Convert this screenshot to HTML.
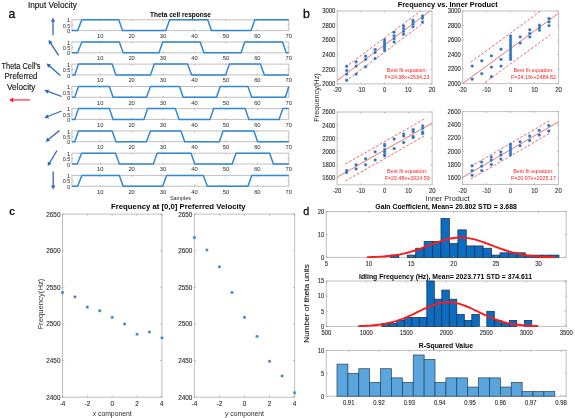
<!DOCTYPE html>
<html><head><meta charset="utf-8"><style>
html,body{margin:0;padding:0;background:#fff;}
body{width:575px;height:418px;overflow:hidden;}
svg{display:block;filter:blur(0.3px);font-family:"Liberation Sans",sans-serif;}
</style></head><body>
<svg width="575" height="418" viewBox="0 0 575 418">
<rect width="575" height="418" fill="#fff"/>
<text x="8.40" y="17.60" font-size="12.20" text-anchor="start" fill="#111" stroke="#111" stroke-width="0.3">a</text>
<text x="27.90" y="7.80" font-size="8.30" text-anchor="start" fill="#111" textLength="49.00" lengthAdjust="spacingAndGlyphs" stroke="#111" stroke-width="0.12">Input Velocity</text>
<text x="21.00" y="68.60" font-size="8.30" text-anchor="middle" fill="#111" textLength="38.80" lengthAdjust="spacingAndGlyphs" stroke="#111" stroke-width="0.12">Theta Cell’s</text>
<text x="21.00" y="79.10" font-size="8.30" text-anchor="middle" fill="#111" textLength="33.00" lengthAdjust="spacingAndGlyphs" stroke="#111" stroke-width="0.12">Preferred</text>
<text x="21.20" y="89.50" font-size="8.30" text-anchor="middle" fill="#111" textLength="28.40" lengthAdjust="spacingAndGlyphs" stroke="#111" stroke-width="0.12">Velocity</text>
<line x1="29.80" y1="99.90" x2="12.80" y2="99.90" stroke="#f7212b" stroke-width="1.15"/>
<polygon points="9.00,99.90 13.30,97.60 13.30,102.20" fill="#f7212b"/>
<line x1="53.00" y1="35.30" x2="53.00" y2="21.20" stroke="#2b68b9" stroke-width="1.3"/>
<polygon points="53.00,17.70 55.20,21.70 50.80,21.70" fill="#2b68b9"/>
<line x1="58.60" y1="55.30" x2="50.51" y2="42.84" stroke="#2b68b9" stroke-width="1.3"/>
<polygon points="48.60,39.90 52.62,42.06 48.93,44.45" fill="#2b68b9"/>
<line x1="60.30" y1="75.40" x2="49.23" y2="65.71" stroke="#2b68b9" stroke-width="1.3"/>
<polygon points="46.60,63.40 51.06,64.38 48.16,67.69" fill="#2b68b9"/>
<line x1="61.60" y1="96.50" x2="47.69" y2="91.40" stroke="#2b68b9" stroke-width="1.3"/>
<polygon points="44.40,90.20 48.91,89.51 47.40,93.64" fill="#2b68b9"/>
<line x1="61.60" y1="111.00" x2="47.65" y2="116.51" stroke="#2b68b9" stroke-width="1.3"/>
<polygon points="44.40,117.80 47.31,114.28 48.93,118.38" fill="#2b68b9"/>
<line x1="59.50" y1="130.40" x2="48.31" y2="139.58" stroke="#2b68b9" stroke-width="1.3"/>
<polygon points="45.60,141.80 47.30,137.56 50.09,140.96" fill="#2b68b9"/>
<line x1="57.00" y1="150.50" x2="49.50" y2="163.00" stroke="#2b68b9" stroke-width="1.3"/>
<polygon points="47.70,166.00 47.87,161.44 51.64,163.70" fill="#2b68b9"/>
<line x1="53.20" y1="171.60" x2="53.20" y2="186.00" stroke="#2b68b9" stroke-width="1.3"/>
<polygon points="53.20,189.50 51.00,185.50 55.40,185.50" fill="#2b68b9"/>
<text x="180.50" y="17.10" font-size="7.00" text-anchor="middle" fill="#000" font-weight="bold" textLength="61.00" lengthAdjust="spacingAndGlyphs">Theta cell response</text>
<rect x="71.90" y="19.80" width="216.90" height="10.80" fill="none" stroke="#c0c0c0" stroke-width="1.0"/>
<line x1="100.19" y1="19.80" x2="100.19" y2="21.30" stroke="#9a9a9a" stroke-width="0.6"/>
<line x1="100.19" y1="30.60" x2="100.19" y2="29.10" stroke="#9a9a9a" stroke-width="0.6"/>
<line x1="131.63" y1="19.80" x2="131.63" y2="21.30" stroke="#9a9a9a" stroke-width="0.6"/>
<line x1="131.63" y1="30.60" x2="131.63" y2="29.10" stroke="#9a9a9a" stroke-width="0.6"/>
<line x1="163.06" y1="19.80" x2="163.06" y2="21.30" stroke="#9a9a9a" stroke-width="0.6"/>
<line x1="163.06" y1="30.60" x2="163.06" y2="29.10" stroke="#9a9a9a" stroke-width="0.6"/>
<line x1="194.50" y1="19.80" x2="194.50" y2="21.30" stroke="#9a9a9a" stroke-width="0.6"/>
<line x1="194.50" y1="30.60" x2="194.50" y2="29.10" stroke="#9a9a9a" stroke-width="0.6"/>
<line x1="225.93" y1="19.80" x2="225.93" y2="21.30" stroke="#9a9a9a" stroke-width="0.6"/>
<line x1="225.93" y1="30.60" x2="225.93" y2="29.10" stroke="#9a9a9a" stroke-width="0.6"/>
<line x1="257.37" y1="19.80" x2="257.37" y2="21.30" stroke="#9a9a9a" stroke-width="0.6"/>
<line x1="257.37" y1="30.60" x2="257.37" y2="29.10" stroke="#9a9a9a" stroke-width="0.6"/>
<line x1="71.90" y1="25.20" x2="73.40" y2="25.20" stroke="#9a9a9a" stroke-width="0.6"/>
<line x1="288.80" y1="25.20" x2="287.30" y2="25.20" stroke="#9a9a9a" stroke-width="0.6"/>
<text x="70.40" y="22.40" font-size="5.90" text-anchor="end" fill="#2a2a2a">1</text>
<text x="70.40" y="27.80" font-size="5.90" text-anchor="end" fill="#2a2a2a" textLength="7.64" lengthAdjust="spacingAndGlyphs">0.5</text>
<text x="70.40" y="33.20" font-size="5.90" text-anchor="end" fill="#2a2a2a">0</text>
<text x="100.19" y="38.00" font-size="6.20" text-anchor="middle" fill="#2a2a2a" textLength="6.45" lengthAdjust="spacingAndGlyphs">10</text>
<text x="131.63" y="38.00" font-size="6.20" text-anchor="middle" fill="#2a2a2a" textLength="6.45" lengthAdjust="spacingAndGlyphs">20</text>
<text x="163.06" y="38.00" font-size="6.20" text-anchor="middle" fill="#2a2a2a" textLength="6.45" lengthAdjust="spacingAndGlyphs">30</text>
<text x="194.50" y="38.00" font-size="6.20" text-anchor="middle" fill="#2a2a2a" textLength="6.45" lengthAdjust="spacingAndGlyphs">40</text>
<text x="225.93" y="38.00" font-size="6.20" text-anchor="middle" fill="#2a2a2a" textLength="6.45" lengthAdjust="spacingAndGlyphs">50</text>
<text x="257.37" y="38.00" font-size="6.20" text-anchor="middle" fill="#2a2a2a" textLength="6.45" lengthAdjust="spacingAndGlyphs">60</text>
<text x="288.80" y="38.00" font-size="6.20" text-anchor="middle" fill="#2a2a2a" textLength="6.45" lengthAdjust="spacingAndGlyphs">70</text>
<polyline points="71.90,30.60 77.65,30.60 81.86,19.80 118.74,19.80 122.51,30.60 165.89,30.60 169.66,19.80 207.70,19.80 211.47,30.60 251.08,30.60 254.85,19.80 288.80,19.80" fill="none" stroke="#3288d2" stroke-width="1.5" stroke-linejoin="round"/>
<rect x="71.90" y="42.00" width="216.90" height="10.80" fill="none" stroke="#c0c0c0" stroke-width="1.0"/>
<line x1="100.19" y1="42.00" x2="100.19" y2="43.50" stroke="#9a9a9a" stroke-width="0.6"/>
<line x1="100.19" y1="52.80" x2="100.19" y2="51.30" stroke="#9a9a9a" stroke-width="0.6"/>
<line x1="131.63" y1="42.00" x2="131.63" y2="43.50" stroke="#9a9a9a" stroke-width="0.6"/>
<line x1="131.63" y1="52.80" x2="131.63" y2="51.30" stroke="#9a9a9a" stroke-width="0.6"/>
<line x1="163.06" y1="42.00" x2="163.06" y2="43.50" stroke="#9a9a9a" stroke-width="0.6"/>
<line x1="163.06" y1="52.80" x2="163.06" y2="51.30" stroke="#9a9a9a" stroke-width="0.6"/>
<line x1="194.50" y1="42.00" x2="194.50" y2="43.50" stroke="#9a9a9a" stroke-width="0.6"/>
<line x1="194.50" y1="52.80" x2="194.50" y2="51.30" stroke="#9a9a9a" stroke-width="0.6"/>
<line x1="225.93" y1="42.00" x2="225.93" y2="43.50" stroke="#9a9a9a" stroke-width="0.6"/>
<line x1="225.93" y1="52.80" x2="225.93" y2="51.30" stroke="#9a9a9a" stroke-width="0.6"/>
<line x1="257.37" y1="42.00" x2="257.37" y2="43.50" stroke="#9a9a9a" stroke-width="0.6"/>
<line x1="257.37" y1="52.80" x2="257.37" y2="51.30" stroke="#9a9a9a" stroke-width="0.6"/>
<line x1="71.90" y1="47.40" x2="73.40" y2="47.40" stroke="#9a9a9a" stroke-width="0.6"/>
<line x1="288.80" y1="47.40" x2="287.30" y2="47.40" stroke="#9a9a9a" stroke-width="0.6"/>
<text x="70.40" y="44.60" font-size="5.90" text-anchor="end" fill="#2a2a2a">1</text>
<text x="70.40" y="50.00" font-size="5.90" text-anchor="end" fill="#2a2a2a" textLength="7.64" lengthAdjust="spacingAndGlyphs">0.5</text>
<text x="70.40" y="55.40" font-size="5.90" text-anchor="end" fill="#2a2a2a">0</text>
<text x="100.19" y="60.20" font-size="6.20" text-anchor="middle" fill="#2a2a2a" textLength="6.45" lengthAdjust="spacingAndGlyphs">10</text>
<text x="131.63" y="60.20" font-size="6.20" text-anchor="middle" fill="#2a2a2a" textLength="6.45" lengthAdjust="spacingAndGlyphs">20</text>
<text x="163.06" y="60.20" font-size="6.20" text-anchor="middle" fill="#2a2a2a" textLength="6.45" lengthAdjust="spacingAndGlyphs">30</text>
<text x="194.50" y="60.20" font-size="6.20" text-anchor="middle" fill="#2a2a2a" textLength="6.45" lengthAdjust="spacingAndGlyphs">40</text>
<text x="225.93" y="60.20" font-size="6.20" text-anchor="middle" fill="#2a2a2a" textLength="6.45" lengthAdjust="spacingAndGlyphs">50</text>
<text x="257.37" y="60.20" font-size="6.20" text-anchor="middle" fill="#2a2a2a" textLength="6.45" lengthAdjust="spacingAndGlyphs">60</text>
<text x="288.80" y="60.20" font-size="6.20" text-anchor="middle" fill="#2a2a2a" textLength="6.45" lengthAdjust="spacingAndGlyphs">70</text>
<polyline points="71.90,52.80 77.65,52.80 81.86,42.00 119.37,42.00 123.14,52.80 158.97,52.80 162.75,42.00 200.15,42.00 203.93,52.80 241.02,52.80 244.79,42.00 282.51,42.00 286.29,52.80 288.80,52.80" fill="none" stroke="#3288d2" stroke-width="1.5" stroke-linejoin="round"/>
<rect x="71.90" y="64.10" width="216.90" height="10.80" fill="none" stroke="#c0c0c0" stroke-width="1.0"/>
<line x1="100.19" y1="64.10" x2="100.19" y2="65.60" stroke="#9a9a9a" stroke-width="0.6"/>
<line x1="100.19" y1="74.90" x2="100.19" y2="73.40" stroke="#9a9a9a" stroke-width="0.6"/>
<line x1="131.63" y1="64.10" x2="131.63" y2="65.60" stroke="#9a9a9a" stroke-width="0.6"/>
<line x1="131.63" y1="74.90" x2="131.63" y2="73.40" stroke="#9a9a9a" stroke-width="0.6"/>
<line x1="163.06" y1="64.10" x2="163.06" y2="65.60" stroke="#9a9a9a" stroke-width="0.6"/>
<line x1="163.06" y1="74.90" x2="163.06" y2="73.40" stroke="#9a9a9a" stroke-width="0.6"/>
<line x1="194.50" y1="64.10" x2="194.50" y2="65.60" stroke="#9a9a9a" stroke-width="0.6"/>
<line x1="194.50" y1="74.90" x2="194.50" y2="73.40" stroke="#9a9a9a" stroke-width="0.6"/>
<line x1="225.93" y1="64.10" x2="225.93" y2="65.60" stroke="#9a9a9a" stroke-width="0.6"/>
<line x1="225.93" y1="74.90" x2="225.93" y2="73.40" stroke="#9a9a9a" stroke-width="0.6"/>
<line x1="257.37" y1="64.10" x2="257.37" y2="65.60" stroke="#9a9a9a" stroke-width="0.6"/>
<line x1="257.37" y1="74.90" x2="257.37" y2="73.40" stroke="#9a9a9a" stroke-width="0.6"/>
<line x1="71.90" y1="69.50" x2="73.40" y2="69.50" stroke="#9a9a9a" stroke-width="0.6"/>
<line x1="288.80" y1="69.50" x2="287.30" y2="69.50" stroke="#9a9a9a" stroke-width="0.6"/>
<text x="70.40" y="66.70" font-size="5.90" text-anchor="end" fill="#2a2a2a">1</text>
<text x="70.40" y="72.10" font-size="5.90" text-anchor="end" fill="#2a2a2a" textLength="7.64" lengthAdjust="spacingAndGlyphs">0.5</text>
<text x="70.40" y="77.50" font-size="5.90" text-anchor="end" fill="#2a2a2a">0</text>
<text x="100.19" y="82.30" font-size="6.20" text-anchor="middle" fill="#2a2a2a" textLength="6.45" lengthAdjust="spacingAndGlyphs">10</text>
<text x="131.63" y="82.30" font-size="6.20" text-anchor="middle" fill="#2a2a2a" textLength="6.45" lengthAdjust="spacingAndGlyphs">20</text>
<text x="163.06" y="82.30" font-size="6.20" text-anchor="middle" fill="#2a2a2a" textLength="6.45" lengthAdjust="spacingAndGlyphs">30</text>
<text x="194.50" y="82.30" font-size="6.20" text-anchor="middle" fill="#2a2a2a" textLength="6.45" lengthAdjust="spacingAndGlyphs">40</text>
<text x="225.93" y="82.30" font-size="6.20" text-anchor="middle" fill="#2a2a2a" textLength="6.45" lengthAdjust="spacingAndGlyphs">50</text>
<text x="257.37" y="82.30" font-size="6.20" text-anchor="middle" fill="#2a2a2a" textLength="6.45" lengthAdjust="spacingAndGlyphs">60</text>
<text x="288.80" y="82.30" font-size="6.20" text-anchor="middle" fill="#2a2a2a" textLength="6.45" lengthAdjust="spacingAndGlyphs">70</text>
<polyline points="71.90,74.90 74.73,74.90 78.50,64.10 112.14,64.10 115.91,74.90 150.49,74.90 154.26,64.10 187.58,64.10 191.67,74.90 225.62,74.90 229.39,64.10 260.51,64.10 264.28,74.90 288.80,74.90" fill="none" stroke="#3288d2" stroke-width="1.5" stroke-linejoin="round"/>
<rect x="71.90" y="86.50" width="216.90" height="10.80" fill="none" stroke="#c0c0c0" stroke-width="1.0"/>
<line x1="100.19" y1="86.50" x2="100.19" y2="88.00" stroke="#9a9a9a" stroke-width="0.6"/>
<line x1="100.19" y1="97.30" x2="100.19" y2="95.80" stroke="#9a9a9a" stroke-width="0.6"/>
<line x1="131.63" y1="86.50" x2="131.63" y2="88.00" stroke="#9a9a9a" stroke-width="0.6"/>
<line x1="131.63" y1="97.30" x2="131.63" y2="95.80" stroke="#9a9a9a" stroke-width="0.6"/>
<line x1="163.06" y1="86.50" x2="163.06" y2="88.00" stroke="#9a9a9a" stroke-width="0.6"/>
<line x1="163.06" y1="97.30" x2="163.06" y2="95.80" stroke="#9a9a9a" stroke-width="0.6"/>
<line x1="194.50" y1="86.50" x2="194.50" y2="88.00" stroke="#9a9a9a" stroke-width="0.6"/>
<line x1="194.50" y1="97.30" x2="194.50" y2="95.80" stroke="#9a9a9a" stroke-width="0.6"/>
<line x1="225.93" y1="86.50" x2="225.93" y2="88.00" stroke="#9a9a9a" stroke-width="0.6"/>
<line x1="225.93" y1="97.30" x2="225.93" y2="95.80" stroke="#9a9a9a" stroke-width="0.6"/>
<line x1="257.37" y1="86.50" x2="257.37" y2="88.00" stroke="#9a9a9a" stroke-width="0.6"/>
<line x1="257.37" y1="97.30" x2="257.37" y2="95.80" stroke="#9a9a9a" stroke-width="0.6"/>
<line x1="71.90" y1="91.90" x2="73.40" y2="91.90" stroke="#9a9a9a" stroke-width="0.6"/>
<line x1="288.80" y1="91.90" x2="287.30" y2="91.90" stroke="#9a9a9a" stroke-width="0.6"/>
<text x="70.40" y="89.10" font-size="5.90" text-anchor="end" fill="#2a2a2a">1</text>
<text x="70.40" y="94.50" font-size="5.90" text-anchor="end" fill="#2a2a2a" textLength="7.64" lengthAdjust="spacingAndGlyphs">0.5</text>
<text x="70.40" y="99.90" font-size="5.90" text-anchor="end" fill="#2a2a2a">0</text>
<text x="100.19" y="104.70" font-size="6.20" text-anchor="middle" fill="#2a2a2a" textLength="6.45" lengthAdjust="spacingAndGlyphs">10</text>
<text x="131.63" y="104.70" font-size="6.20" text-anchor="middle" fill="#2a2a2a" textLength="6.45" lengthAdjust="spacingAndGlyphs">20</text>
<text x="163.06" y="104.70" font-size="6.20" text-anchor="middle" fill="#2a2a2a" textLength="6.45" lengthAdjust="spacingAndGlyphs">30</text>
<text x="194.50" y="104.70" font-size="6.20" text-anchor="middle" fill="#2a2a2a" textLength="6.45" lengthAdjust="spacingAndGlyphs">40</text>
<text x="225.93" y="104.70" font-size="6.20" text-anchor="middle" fill="#2a2a2a" textLength="6.45" lengthAdjust="spacingAndGlyphs">50</text>
<text x="257.37" y="104.70" font-size="6.20" text-anchor="middle" fill="#2a2a2a" textLength="6.45" lengthAdjust="spacingAndGlyphs">60</text>
<text x="288.80" y="104.70" font-size="6.20" text-anchor="middle" fill="#2a2a2a" textLength="6.45" lengthAdjust="spacingAndGlyphs">70</text>
<polyline points="71.90,97.30 74.73,97.30 78.50,86.50 109.31,86.50 113.08,97.30 146.40,97.30 150.49,86.50 179.41,86.50 183.18,97.30 216.50,97.30 220.27,86.50 247.93,86.50 251.71,97.30 285.34,97.30 288.80,86.50 288.80,86.50" fill="none" stroke="#3288d2" stroke-width="1.5" stroke-linejoin="round"/>
<rect x="71.90" y="108.60" width="216.90" height="10.80" fill="none" stroke="#c0c0c0" stroke-width="1.0"/>
<line x1="100.19" y1="108.60" x2="100.19" y2="110.10" stroke="#9a9a9a" stroke-width="0.6"/>
<line x1="100.19" y1="119.40" x2="100.19" y2="117.90" stroke="#9a9a9a" stroke-width="0.6"/>
<line x1="131.63" y1="108.60" x2="131.63" y2="110.10" stroke="#9a9a9a" stroke-width="0.6"/>
<line x1="131.63" y1="119.40" x2="131.63" y2="117.90" stroke="#9a9a9a" stroke-width="0.6"/>
<line x1="163.06" y1="108.60" x2="163.06" y2="110.10" stroke="#9a9a9a" stroke-width="0.6"/>
<line x1="163.06" y1="119.40" x2="163.06" y2="117.90" stroke="#9a9a9a" stroke-width="0.6"/>
<line x1="194.50" y1="108.60" x2="194.50" y2="110.10" stroke="#9a9a9a" stroke-width="0.6"/>
<line x1="194.50" y1="119.40" x2="194.50" y2="117.90" stroke="#9a9a9a" stroke-width="0.6"/>
<line x1="225.93" y1="108.60" x2="225.93" y2="110.10" stroke="#9a9a9a" stroke-width="0.6"/>
<line x1="225.93" y1="119.40" x2="225.93" y2="117.90" stroke="#9a9a9a" stroke-width="0.6"/>
<line x1="257.37" y1="108.60" x2="257.37" y2="110.10" stroke="#9a9a9a" stroke-width="0.6"/>
<line x1="257.37" y1="119.40" x2="257.37" y2="117.90" stroke="#9a9a9a" stroke-width="0.6"/>
<line x1="71.90" y1="114.00" x2="73.40" y2="114.00" stroke="#9a9a9a" stroke-width="0.6"/>
<line x1="288.80" y1="114.00" x2="287.30" y2="114.00" stroke="#9a9a9a" stroke-width="0.6"/>
<text x="70.40" y="111.20" font-size="5.90" text-anchor="end" fill="#2a2a2a">1</text>
<text x="70.40" y="116.60" font-size="5.90" text-anchor="end" fill="#2a2a2a" textLength="7.64" lengthAdjust="spacingAndGlyphs">0.5</text>
<text x="70.40" y="122.00" font-size="5.90" text-anchor="end" fill="#2a2a2a">0</text>
<text x="100.19" y="126.80" font-size="6.20" text-anchor="middle" fill="#2a2a2a" textLength="6.45" lengthAdjust="spacingAndGlyphs">10</text>
<text x="131.63" y="126.80" font-size="6.20" text-anchor="middle" fill="#2a2a2a" textLength="6.45" lengthAdjust="spacingAndGlyphs">20</text>
<text x="163.06" y="126.80" font-size="6.20" text-anchor="middle" fill="#2a2a2a" textLength="6.45" lengthAdjust="spacingAndGlyphs">30</text>
<text x="194.50" y="126.80" font-size="6.20" text-anchor="middle" fill="#2a2a2a" textLength="6.45" lengthAdjust="spacingAndGlyphs">40</text>
<text x="225.93" y="126.80" font-size="6.20" text-anchor="middle" fill="#2a2a2a" textLength="6.45" lengthAdjust="spacingAndGlyphs">50</text>
<text x="257.37" y="126.80" font-size="6.20" text-anchor="middle" fill="#2a2a2a" textLength="6.45" lengthAdjust="spacingAndGlyphs">60</text>
<text x="288.80" y="126.80" font-size="6.20" text-anchor="middle" fill="#2a2a2a" textLength="6.45" lengthAdjust="spacingAndGlyphs">70</text>
<polyline points="71.90,119.40 74.73,119.40 78.50,108.60 109.31,108.60 113.08,119.40 143.89,119.40 147.66,108.60 175.32,108.60 179.09,119.40 209.90,119.40 213.67,108.60 245.11,108.60 248.88,119.40 279.06,119.40 282.83,108.60 288.80,108.60" fill="none" stroke="#3288d2" stroke-width="1.5" stroke-linejoin="round"/>
<rect x="71.90" y="130.90" width="216.90" height="10.80" fill="none" stroke="#c0c0c0" stroke-width="1.0"/>
<line x1="100.19" y1="130.90" x2="100.19" y2="132.40" stroke="#9a9a9a" stroke-width="0.6"/>
<line x1="100.19" y1="141.70" x2="100.19" y2="140.20" stroke="#9a9a9a" stroke-width="0.6"/>
<line x1="131.63" y1="130.90" x2="131.63" y2="132.40" stroke="#9a9a9a" stroke-width="0.6"/>
<line x1="131.63" y1="141.70" x2="131.63" y2="140.20" stroke="#9a9a9a" stroke-width="0.6"/>
<line x1="163.06" y1="130.90" x2="163.06" y2="132.40" stroke="#9a9a9a" stroke-width="0.6"/>
<line x1="163.06" y1="141.70" x2="163.06" y2="140.20" stroke="#9a9a9a" stroke-width="0.6"/>
<line x1="194.50" y1="130.90" x2="194.50" y2="132.40" stroke="#9a9a9a" stroke-width="0.6"/>
<line x1="194.50" y1="141.70" x2="194.50" y2="140.20" stroke="#9a9a9a" stroke-width="0.6"/>
<line x1="225.93" y1="130.90" x2="225.93" y2="132.40" stroke="#9a9a9a" stroke-width="0.6"/>
<line x1="225.93" y1="141.70" x2="225.93" y2="140.20" stroke="#9a9a9a" stroke-width="0.6"/>
<line x1="257.37" y1="130.90" x2="257.37" y2="132.40" stroke="#9a9a9a" stroke-width="0.6"/>
<line x1="257.37" y1="141.70" x2="257.37" y2="140.20" stroke="#9a9a9a" stroke-width="0.6"/>
<line x1="71.90" y1="136.30" x2="73.40" y2="136.30" stroke="#9a9a9a" stroke-width="0.6"/>
<line x1="288.80" y1="136.30" x2="287.30" y2="136.30" stroke="#9a9a9a" stroke-width="0.6"/>
<text x="70.40" y="133.50" font-size="5.90" text-anchor="end" fill="#2a2a2a">1</text>
<text x="70.40" y="138.90" font-size="5.90" text-anchor="end" fill="#2a2a2a" textLength="7.64" lengthAdjust="spacingAndGlyphs">0.5</text>
<text x="70.40" y="144.30" font-size="5.90" text-anchor="end" fill="#2a2a2a">0</text>
<text x="100.19" y="149.10" font-size="6.20" text-anchor="middle" fill="#2a2a2a" textLength="6.45" lengthAdjust="spacingAndGlyphs">10</text>
<text x="131.63" y="149.10" font-size="6.20" text-anchor="middle" fill="#2a2a2a" textLength="6.45" lengthAdjust="spacingAndGlyphs">20</text>
<text x="163.06" y="149.10" font-size="6.20" text-anchor="middle" fill="#2a2a2a" textLength="6.45" lengthAdjust="spacingAndGlyphs">30</text>
<text x="194.50" y="149.10" font-size="6.20" text-anchor="middle" fill="#2a2a2a" textLength="6.45" lengthAdjust="spacingAndGlyphs">40</text>
<text x="225.93" y="149.10" font-size="6.20" text-anchor="middle" fill="#2a2a2a" textLength="6.45" lengthAdjust="spacingAndGlyphs">50</text>
<text x="257.37" y="149.10" font-size="6.20" text-anchor="middle" fill="#2a2a2a" textLength="6.45" lengthAdjust="spacingAndGlyphs">60</text>
<text x="288.80" y="149.10" font-size="6.20" text-anchor="middle" fill="#2a2a2a" textLength="6.45" lengthAdjust="spacingAndGlyphs">70</text>
<polyline points="71.90,141.70 74.73,141.70 78.50,130.90 112.14,130.90 115.91,141.70 146.40,141.70 150.49,130.90 180.98,130.90 184.75,141.70 219.33,141.70 223.10,130.90 253.91,130.90 257.68,141.70 288.80,141.70" fill="none" stroke="#3288d2" stroke-width="1.5" stroke-linejoin="round"/>
<rect x="71.90" y="153.20" width="216.90" height="10.80" fill="none" stroke="#c0c0c0" stroke-width="1.0"/>
<line x1="100.19" y1="153.20" x2="100.19" y2="154.70" stroke="#9a9a9a" stroke-width="0.6"/>
<line x1="100.19" y1="164.00" x2="100.19" y2="162.50" stroke="#9a9a9a" stroke-width="0.6"/>
<line x1="131.63" y1="153.20" x2="131.63" y2="154.70" stroke="#9a9a9a" stroke-width="0.6"/>
<line x1="131.63" y1="164.00" x2="131.63" y2="162.50" stroke="#9a9a9a" stroke-width="0.6"/>
<line x1="163.06" y1="153.20" x2="163.06" y2="154.70" stroke="#9a9a9a" stroke-width="0.6"/>
<line x1="163.06" y1="164.00" x2="163.06" y2="162.50" stroke="#9a9a9a" stroke-width="0.6"/>
<line x1="194.50" y1="153.20" x2="194.50" y2="154.70" stroke="#9a9a9a" stroke-width="0.6"/>
<line x1="194.50" y1="164.00" x2="194.50" y2="162.50" stroke="#9a9a9a" stroke-width="0.6"/>
<line x1="225.93" y1="153.20" x2="225.93" y2="154.70" stroke="#9a9a9a" stroke-width="0.6"/>
<line x1="225.93" y1="164.00" x2="225.93" y2="162.50" stroke="#9a9a9a" stroke-width="0.6"/>
<line x1="257.37" y1="153.20" x2="257.37" y2="154.70" stroke="#9a9a9a" stroke-width="0.6"/>
<line x1="257.37" y1="164.00" x2="257.37" y2="162.50" stroke="#9a9a9a" stroke-width="0.6"/>
<line x1="71.90" y1="158.60" x2="73.40" y2="158.60" stroke="#9a9a9a" stroke-width="0.6"/>
<line x1="288.80" y1="158.60" x2="287.30" y2="158.60" stroke="#9a9a9a" stroke-width="0.6"/>
<text x="70.40" y="155.80" font-size="5.90" text-anchor="end" fill="#2a2a2a">1</text>
<text x="70.40" y="161.20" font-size="5.90" text-anchor="end" fill="#2a2a2a" textLength="7.64" lengthAdjust="spacingAndGlyphs">0.5</text>
<text x="70.40" y="166.60" font-size="5.90" text-anchor="end" fill="#2a2a2a">0</text>
<text x="100.19" y="171.40" font-size="6.20" text-anchor="middle" fill="#2a2a2a" textLength="6.45" lengthAdjust="spacingAndGlyphs">10</text>
<text x="131.63" y="171.40" font-size="6.20" text-anchor="middle" fill="#2a2a2a" textLength="6.45" lengthAdjust="spacingAndGlyphs">20</text>
<text x="163.06" y="171.40" font-size="6.20" text-anchor="middle" fill="#2a2a2a" textLength="6.45" lengthAdjust="spacingAndGlyphs">30</text>
<text x="194.50" y="171.40" font-size="6.20" text-anchor="middle" fill="#2a2a2a" textLength="6.45" lengthAdjust="spacingAndGlyphs">40</text>
<text x="225.93" y="171.40" font-size="6.20" text-anchor="middle" fill="#2a2a2a" textLength="6.45" lengthAdjust="spacingAndGlyphs">50</text>
<text x="257.37" y="171.40" font-size="6.20" text-anchor="middle" fill="#2a2a2a" textLength="6.45" lengthAdjust="spacingAndGlyphs">60</text>
<text x="288.80" y="171.40" font-size="6.20" text-anchor="middle" fill="#2a2a2a" textLength="6.45" lengthAdjust="spacingAndGlyphs">70</text>
<polyline points="71.90,164.00 77.24,164.00 81.64,153.20 115.59,153.20 119.37,164.00 153.32,164.00 157.09,153.20 191.04,153.20 194.81,164.00 232.22,164.00 235.99,153.20 269.62,153.20 273.40,164.00 288.80,164.00" fill="none" stroke="#3288d2" stroke-width="1.5" stroke-linejoin="round"/>
<rect x="71.90" y="175.40" width="216.90" height="10.80" fill="none" stroke="#c0c0c0" stroke-width="1.0"/>
<line x1="100.19" y1="175.40" x2="100.19" y2="176.90" stroke="#9a9a9a" stroke-width="0.6"/>
<line x1="100.19" y1="186.20" x2="100.19" y2="184.70" stroke="#9a9a9a" stroke-width="0.6"/>
<line x1="131.63" y1="175.40" x2="131.63" y2="176.90" stroke="#9a9a9a" stroke-width="0.6"/>
<line x1="131.63" y1="186.20" x2="131.63" y2="184.70" stroke="#9a9a9a" stroke-width="0.6"/>
<line x1="163.06" y1="175.40" x2="163.06" y2="176.90" stroke="#9a9a9a" stroke-width="0.6"/>
<line x1="163.06" y1="186.20" x2="163.06" y2="184.70" stroke="#9a9a9a" stroke-width="0.6"/>
<line x1="194.50" y1="175.40" x2="194.50" y2="176.90" stroke="#9a9a9a" stroke-width="0.6"/>
<line x1="194.50" y1="186.20" x2="194.50" y2="184.70" stroke="#9a9a9a" stroke-width="0.6"/>
<line x1="225.93" y1="175.40" x2="225.93" y2="176.90" stroke="#9a9a9a" stroke-width="0.6"/>
<line x1="225.93" y1="186.20" x2="225.93" y2="184.70" stroke="#9a9a9a" stroke-width="0.6"/>
<line x1="257.37" y1="175.40" x2="257.37" y2="176.90" stroke="#9a9a9a" stroke-width="0.6"/>
<line x1="257.37" y1="186.20" x2="257.37" y2="184.70" stroke="#9a9a9a" stroke-width="0.6"/>
<line x1="71.90" y1="180.80" x2="73.40" y2="180.80" stroke="#9a9a9a" stroke-width="0.6"/>
<line x1="288.80" y1="180.80" x2="287.30" y2="180.80" stroke="#9a9a9a" stroke-width="0.6"/>
<text x="70.40" y="178.00" font-size="5.90" text-anchor="end" fill="#2a2a2a">1</text>
<text x="70.40" y="183.40" font-size="5.90" text-anchor="end" fill="#2a2a2a" textLength="7.64" lengthAdjust="spacingAndGlyphs">0.5</text>
<text x="70.40" y="188.80" font-size="5.90" text-anchor="end" fill="#2a2a2a">0</text>
<text x="100.19" y="193.60" font-size="6.20" text-anchor="middle" fill="#2a2a2a" textLength="6.45" lengthAdjust="spacingAndGlyphs">10</text>
<text x="131.63" y="193.60" font-size="6.20" text-anchor="middle" fill="#2a2a2a" textLength="6.45" lengthAdjust="spacingAndGlyphs">20</text>
<text x="163.06" y="193.60" font-size="6.20" text-anchor="middle" fill="#2a2a2a" textLength="6.45" lengthAdjust="spacingAndGlyphs">30</text>
<text x="194.50" y="193.60" font-size="6.20" text-anchor="middle" fill="#2a2a2a" textLength="6.45" lengthAdjust="spacingAndGlyphs">40</text>
<text x="225.93" y="193.60" font-size="6.20" text-anchor="middle" fill="#2a2a2a" textLength="6.45" lengthAdjust="spacingAndGlyphs">50</text>
<text x="257.37" y="193.60" font-size="6.20" text-anchor="middle" fill="#2a2a2a" textLength="6.45" lengthAdjust="spacingAndGlyphs">60</text>
<text x="288.80" y="193.60" font-size="6.20" text-anchor="middle" fill="#2a2a2a" textLength="6.45" lengthAdjust="spacingAndGlyphs">70</text>
<polyline points="71.90,186.20 77.56,186.20 81.96,175.40 119.37,175.40 123.14,186.20 162.75,186.20 166.52,175.40 203.30,175.40 207.38,186.20 247.93,186.20 251.71,175.40 288.80,175.40" fill="none" stroke="#3288d2" stroke-width="1.5" stroke-linejoin="round"/>
<text x="180.50" y="199.70" font-size="5.40" text-anchor="middle" fill="#2a2a2a" textLength="21.00" lengthAdjust="spacingAndGlyphs">Samples</text>
<text x="303.00" y="17.60" font-size="12.30" text-anchor="start" fill="#111" stroke="#111" stroke-width="0.3">b</text>
<text x="447.70" y="7.30" font-size="7.00" text-anchor="middle" fill="#000" font-weight="bold" textLength="100.00" lengthAdjust="spacingAndGlyphs">Frequency vs. Inner Product</text>
<clipPath id="cb1"><rect x="337.2" y="11.0" width="94.80000000000001" height="72.9"/></clipPath>
<rect x="337.20" y="11.00" width="94.80" height="72.90" fill="none" stroke="#c0c0c0" stroke-width="1.0"/>
<line x1="360.90" y1="83.90" x2="360.90" y2="82.40" stroke="#9a9a9a" stroke-width="0.6"/>
<line x1="360.90" y1="11.00" x2="360.90" y2="12.50" stroke="#9a9a9a" stroke-width="0.6"/>
<line x1="384.60" y1="83.90" x2="384.60" y2="82.40" stroke="#9a9a9a" stroke-width="0.6"/>
<line x1="384.60" y1="11.00" x2="384.60" y2="12.50" stroke="#9a9a9a" stroke-width="0.6"/>
<line x1="408.30" y1="83.90" x2="408.30" y2="82.40" stroke="#9a9a9a" stroke-width="0.6"/>
<line x1="408.30" y1="11.00" x2="408.30" y2="12.50" stroke="#9a9a9a" stroke-width="0.6"/>
<line x1="337.20" y1="83.90" x2="338.70" y2="83.90" stroke="#9a9a9a" stroke-width="0.6"/>
<line x1="432.00" y1="83.90" x2="430.50" y2="83.90" stroke="#9a9a9a" stroke-width="0.6"/>
<text x="335.40" y="86.20" font-size="6.60" text-anchor="end" fill="#2a2a2a" textLength="13.12" lengthAdjust="spacingAndGlyphs" stroke="#2a2a2a" stroke-width="0.1">2000</text>
<line x1="337.20" y1="69.32" x2="338.70" y2="69.32" stroke="#9a9a9a" stroke-width="0.6"/>
<line x1="432.00" y1="69.32" x2="430.50" y2="69.32" stroke="#9a9a9a" stroke-width="0.6"/>
<text x="335.40" y="71.62" font-size="6.60" text-anchor="end" fill="#2a2a2a" textLength="13.12" lengthAdjust="spacingAndGlyphs" stroke="#2a2a2a" stroke-width="0.1">2200</text>
<line x1="337.20" y1="54.74" x2="338.70" y2="54.74" stroke="#9a9a9a" stroke-width="0.6"/>
<line x1="432.00" y1="54.74" x2="430.50" y2="54.74" stroke="#9a9a9a" stroke-width="0.6"/>
<text x="335.40" y="57.04" font-size="6.60" text-anchor="end" fill="#2a2a2a" textLength="13.12" lengthAdjust="spacingAndGlyphs" stroke="#2a2a2a" stroke-width="0.1">2400</text>
<line x1="337.20" y1="40.16" x2="338.70" y2="40.16" stroke="#9a9a9a" stroke-width="0.6"/>
<line x1="432.00" y1="40.16" x2="430.50" y2="40.16" stroke="#9a9a9a" stroke-width="0.6"/>
<text x="335.40" y="42.46" font-size="6.60" text-anchor="end" fill="#2a2a2a" textLength="13.12" lengthAdjust="spacingAndGlyphs" stroke="#2a2a2a" stroke-width="0.1">2600</text>
<line x1="337.20" y1="25.58" x2="338.70" y2="25.58" stroke="#9a9a9a" stroke-width="0.6"/>
<line x1="432.00" y1="25.58" x2="430.50" y2="25.58" stroke="#9a9a9a" stroke-width="0.6"/>
<text x="335.40" y="27.88" font-size="6.60" text-anchor="end" fill="#2a2a2a" textLength="13.12" lengthAdjust="spacingAndGlyphs" stroke="#2a2a2a" stroke-width="0.1">2800</text>
<line x1="337.20" y1="11.00" x2="338.70" y2="11.00" stroke="#9a9a9a" stroke-width="0.6"/>
<line x1="432.00" y1="11.00" x2="430.50" y2="11.00" stroke="#9a9a9a" stroke-width="0.6"/>
<text x="335.40" y="13.30" font-size="6.60" text-anchor="end" fill="#2a2a2a" textLength="13.12" lengthAdjust="spacingAndGlyphs" stroke="#2a2a2a" stroke-width="0.1">3000</text>
<text x="337.20" y="91.90" font-size="6.60" text-anchor="middle" fill="#2a2a2a" textLength="8.53" lengthAdjust="spacingAndGlyphs" stroke="#2a2a2a" stroke-width="0.1">-20</text>
<text x="360.90" y="91.90" font-size="6.60" text-anchor="middle" fill="#2a2a2a" textLength="8.53" lengthAdjust="spacingAndGlyphs" stroke="#2a2a2a" stroke-width="0.1">-10</text>
<text x="384.60" y="91.90" font-size="6.60" text-anchor="middle" fill="#2a2a2a" textLength="3.28" lengthAdjust="spacingAndGlyphs" stroke="#2a2a2a" stroke-width="0.1">0</text>
<text x="408.30" y="91.90" font-size="6.60" text-anchor="middle" fill="#2a2a2a" textLength="6.56" lengthAdjust="spacingAndGlyphs" stroke="#2a2a2a" stroke-width="0.1">10</text>
<text x="432.00" y="91.90" font-size="6.60" text-anchor="middle" fill="#2a2a2a" textLength="6.56" lengthAdjust="spacingAndGlyphs" stroke="#2a2a2a" stroke-width="0.1">20</text>
<g clip-path="url(#cb1)">
<line x1="337.20" y1="80.50" x2="432.00" y2="9.41" stroke="#f26060" stroke-width="0.9"/>
<line x1="345.50" y1="67.21" x2="423.94" y2="8.38" stroke="#f05050" stroke-width="0.9" stroke-dasharray="2.6,1.8"/>
<line x1="345.50" y1="81.35" x2="423.94" y2="22.52" stroke="#f05050" stroke-width="0.9" stroke-dasharray="2.6,1.8"/>
</g>
<circle cx="346.68" cy="66.26" r="1.7" fill="#7ab6ea" fill-opacity="0.75"/>
<path d="M345.28,66.26H348.08M346.68,64.86V67.66M345.70,65.28L347.66,67.24M345.70,67.24L347.66,65.28" stroke="#2264b0" stroke-width="0.75" fill="none"/>
<circle cx="346.68" cy="70.49" r="1.7" fill="#7ab6ea" fill-opacity="0.75"/>
<path d="M345.28,70.49H348.08M346.68,69.09V71.89M345.70,69.51L347.66,71.47M345.70,71.47L347.66,69.51" stroke="#2264b0" stroke-width="0.75" fill="none"/>
<circle cx="346.68" cy="74.13" r="1.7" fill="#7ab6ea" fill-opacity="0.75"/>
<path d="M345.28,74.13H348.08M346.68,72.73V75.53M345.70,73.15L347.66,75.11M345.70,75.11L347.66,73.15" stroke="#2264b0" stroke-width="0.75" fill="none"/>
<circle cx="346.68" cy="80.18" r="1.7" fill="#7ab6ea" fill-opacity="0.75"/>
<path d="M345.28,80.18H348.08M346.68,78.78V81.58M345.70,79.20L347.66,81.16M345.70,81.16L347.66,79.20" stroke="#2264b0" stroke-width="0.75" fill="none"/>
<circle cx="356.16" cy="61.88" r="1.7" fill="#7ab6ea" fill-opacity="0.75"/>
<path d="M354.76,61.88H357.56M356.16,60.48V63.28M355.18,60.90L357.14,62.86M355.18,62.86L357.14,60.90" stroke="#2264b0" stroke-width="0.75" fill="none"/>
<circle cx="356.16" cy="66.11" r="1.7" fill="#7ab6ea" fill-opacity="0.75"/>
<path d="M354.76,66.11H357.56M356.16,64.71V67.51M355.18,65.13L357.14,67.09M355.18,67.09L357.14,65.13" stroke="#2264b0" stroke-width="0.75" fill="none"/>
<circle cx="356.16" cy="74.13" r="1.7" fill="#7ab6ea" fill-opacity="0.75"/>
<path d="M354.76,74.13H357.56M356.16,72.73V75.53M355.18,73.15L357.14,75.11M355.18,75.11L357.14,73.15" stroke="#2264b0" stroke-width="0.75" fill="none"/>
<circle cx="365.64" cy="56.13" r="1.7" fill="#7ab6ea" fill-opacity="0.75"/>
<path d="M364.24,56.13H367.04M365.64,54.73V57.53M364.66,55.15L366.62,57.11M364.66,57.11L366.62,55.15" stroke="#2264b0" stroke-width="0.75" fill="none"/>
<circle cx="365.64" cy="59.41" r="1.7" fill="#7ab6ea" fill-opacity="0.75"/>
<path d="M364.24,59.41H367.04M365.64,58.01V60.81M364.66,58.43L366.62,60.39M364.66,60.39L366.62,58.43" stroke="#2264b0" stroke-width="0.75" fill="none"/>
<circle cx="365.64" cy="66.70" r="1.7" fill="#7ab6ea" fill-opacity="0.75"/>
<path d="M364.24,66.70H367.04M365.64,65.30V68.10M364.66,65.72L366.62,67.68M364.66,67.68L366.62,65.72" stroke="#2264b0" stroke-width="0.75" fill="none"/>
<circle cx="375.12" cy="49.49" r="1.7" fill="#7ab6ea" fill-opacity="0.75"/>
<path d="M373.72,49.49H376.52M375.12,48.09V50.89M374.14,48.51L376.10,50.47M374.14,50.47L376.10,48.51" stroke="#2264b0" stroke-width="0.75" fill="none"/>
<circle cx="375.12" cy="52.48" r="1.7" fill="#7ab6ea" fill-opacity="0.75"/>
<path d="M373.72,52.48H376.52M375.12,51.08V53.88M374.14,51.50L376.10,53.46M374.14,53.46L376.10,51.50" stroke="#2264b0" stroke-width="0.75" fill="none"/>
<circle cx="375.12" cy="58.53" r="1.7" fill="#7ab6ea" fill-opacity="0.75"/>
<path d="M373.72,58.53H376.52M375.12,57.13V59.93M374.14,57.55L376.10,59.51M374.14,59.51L376.10,57.55" stroke="#2264b0" stroke-width="0.75" fill="none"/>
<circle cx="384.60" cy="50.66" r="1.7" fill="#7ab6ea" fill-opacity="0.75"/>
<path d="M383.20,50.66H386.00M384.60,49.26V52.06M383.62,49.68L385.58,51.64M383.62,51.64L385.58,49.68" stroke="#2264b0" stroke-width="0.75" fill="none"/>
<circle cx="384.60" cy="48.91" r="1.7" fill="#7ab6ea" fill-opacity="0.75"/>
<path d="M383.20,48.91H386.00M384.60,47.51V50.31M383.62,47.93L385.58,49.89M383.62,49.89L385.58,47.93" stroke="#2264b0" stroke-width="0.75" fill="none"/>
<circle cx="384.60" cy="47.45" r="1.7" fill="#7ab6ea" fill-opacity="0.75"/>
<path d="M383.20,47.45H386.00M384.60,46.05V48.85M383.62,46.47L385.58,48.43M383.62,48.43L385.58,46.47" stroke="#2264b0" stroke-width="0.75" fill="none"/>
<circle cx="384.60" cy="45.99" r="1.7" fill="#7ab6ea" fill-opacity="0.75"/>
<path d="M383.20,45.99H386.00M384.60,44.59V47.39M383.62,45.01L385.58,46.97M383.62,46.97L385.58,45.01" stroke="#2264b0" stroke-width="0.75" fill="none"/>
<circle cx="384.60" cy="44.53" r="1.7" fill="#7ab6ea" fill-opacity="0.75"/>
<path d="M383.20,44.53H386.00M384.60,43.13V45.93M383.62,43.55L385.58,45.51M383.62,45.51L385.58,43.55" stroke="#2264b0" stroke-width="0.75" fill="none"/>
<circle cx="384.60" cy="43.08" r="1.7" fill="#7ab6ea" fill-opacity="0.75"/>
<path d="M383.20,43.08H386.00M384.60,41.68V44.48M383.62,42.10L385.58,44.06M383.62,44.06L385.58,42.10" stroke="#2264b0" stroke-width="0.75" fill="none"/>
<circle cx="384.60" cy="41.62" r="1.7" fill="#7ab6ea" fill-opacity="0.75"/>
<path d="M383.20,41.62H386.00M384.60,40.22V43.02M383.62,40.64L385.58,42.60M383.62,42.60L385.58,40.64" stroke="#2264b0" stroke-width="0.75" fill="none"/>
<circle cx="384.60" cy="39.80" r="1.7" fill="#7ab6ea" fill-opacity="0.75"/>
<path d="M383.20,39.80H386.00M384.60,38.40V41.20M383.62,38.82L385.58,40.78M383.62,40.78L385.58,38.82" stroke="#2264b0" stroke-width="0.75" fill="none"/>
<circle cx="394.08" cy="41.98" r="1.7" fill="#7ab6ea" fill-opacity="0.75"/>
<path d="M392.68,41.98H395.48M394.08,40.58V43.38M393.10,41.00L395.06,42.96M393.10,42.96L395.06,41.00" stroke="#2264b0" stroke-width="0.75" fill="none"/>
<circle cx="394.08" cy="38.70" r="1.7" fill="#7ab6ea" fill-opacity="0.75"/>
<path d="M392.68,38.70H395.48M394.08,37.30V40.10M393.10,37.72L395.06,39.68M393.10,39.68L395.06,37.72" stroke="#2264b0" stroke-width="0.75" fill="none"/>
<circle cx="394.08" cy="35.79" r="1.7" fill="#7ab6ea" fill-opacity="0.75"/>
<path d="M392.68,35.79H395.48M394.08,34.39V37.19M393.10,34.81L395.06,36.77M393.10,36.77L395.06,34.81" stroke="#2264b0" stroke-width="0.75" fill="none"/>
<circle cx="394.08" cy="32.21" r="1.7" fill="#7ab6ea" fill-opacity="0.75"/>
<path d="M392.68,32.21H395.48M394.08,30.81V33.61M393.10,31.23L395.06,33.19M393.10,33.19L395.06,31.23" stroke="#2264b0" stroke-width="0.75" fill="none"/>
<circle cx="403.56" cy="34.33" r="1.7" fill="#7ab6ea" fill-opacity="0.75"/>
<path d="M402.16,34.33H404.96M403.56,32.93V35.73M402.58,33.35L404.54,35.31M402.58,35.31L404.54,33.35" stroke="#2264b0" stroke-width="0.75" fill="none"/>
<circle cx="403.56" cy="31.41" r="1.7" fill="#7ab6ea" fill-opacity="0.75"/>
<path d="M402.16,31.41H404.96M403.56,30.01V32.81M402.58,30.43L404.54,32.39M402.58,32.39L404.54,30.43" stroke="#2264b0" stroke-width="0.75" fill="none"/>
<circle cx="403.56" cy="28.50" r="1.7" fill="#7ab6ea" fill-opacity="0.75"/>
<path d="M402.16,28.50H404.96M403.56,27.10V29.90M402.58,27.52L404.54,29.48M402.58,29.48L404.54,27.52" stroke="#2264b0" stroke-width="0.75" fill="none"/>
<circle cx="403.56" cy="25.80" r="1.7" fill="#7ab6ea" fill-opacity="0.75"/>
<path d="M402.16,25.80H404.96M403.56,24.40V27.20M402.58,24.82L404.54,26.78M402.58,26.78L404.54,24.82" stroke="#2264b0" stroke-width="0.75" fill="none"/>
<circle cx="413.04" cy="26.82" r="1.7" fill="#7ab6ea" fill-opacity="0.75"/>
<path d="M411.64,26.82H414.44M413.04,25.42V28.22M412.06,25.84L414.02,27.80M412.06,27.80L414.02,25.84" stroke="#2264b0" stroke-width="0.75" fill="none"/>
<circle cx="413.04" cy="24.12" r="1.7" fill="#7ab6ea" fill-opacity="0.75"/>
<path d="M411.64,24.12H414.44M413.04,22.72V25.52M412.06,23.14L414.02,25.10M412.06,25.10L414.02,23.14" stroke="#2264b0" stroke-width="0.75" fill="none"/>
<circle cx="413.04" cy="21.93" r="1.7" fill="#7ab6ea" fill-opacity="0.75"/>
<path d="M411.64,21.93H414.44M413.04,20.53V23.33M412.06,20.95L414.02,22.91M412.06,22.91L414.02,20.95" stroke="#2264b0" stroke-width="0.75" fill="none"/>
<circle cx="413.04" cy="20.26" r="1.7" fill="#7ab6ea" fill-opacity="0.75"/>
<path d="M411.64,20.26H414.44M413.04,18.86V21.66M412.06,19.28L414.02,21.24M412.06,21.24L414.02,19.28" stroke="#2264b0" stroke-width="0.75" fill="none"/>
<circle cx="422.52" cy="22.08" r="1.7" fill="#7ab6ea" fill-opacity="0.75"/>
<path d="M421.12,22.08H423.92M422.52,20.68V23.48M421.54,21.10L423.50,23.06M421.54,23.06L423.50,21.10" stroke="#2264b0" stroke-width="0.75" fill="none"/>
<circle cx="422.52" cy="18.29" r="1.7" fill="#7ab6ea" fill-opacity="0.75"/>
<path d="M421.12,18.29H423.92M422.52,16.89V19.69M421.54,17.31L423.50,19.27M421.54,19.27L423.50,17.31" stroke="#2264b0" stroke-width="0.75" fill="none"/>
<circle cx="422.52" cy="16.03" r="1.7" fill="#7ab6ea" fill-opacity="0.75"/>
<path d="M421.12,16.03H423.92M422.52,14.63V17.43M421.54,15.05L423.50,17.01M421.54,17.01L423.50,15.05" stroke="#2264b0" stroke-width="0.75" fill="none"/>
<text x="407.00" y="72.30" font-size="5.30" text-anchor="middle" fill="#ff2020" textLength="40.30" lengthAdjust="spacingAndGlyphs">Best fit equation:</text>
<text x="407.00" y="79.00" font-size="5.30" text-anchor="middle" fill="#ff2020" textLength="45.00" lengthAdjust="spacingAndGlyphs">F=24.38x+2534.23</text>
<clipPath id="cb2"><rect x="462.6" y="11.0" width="96.0" height="72.6"/></clipPath>
<rect x="462.60" y="11.00" width="96.00" height="72.60" fill="none" stroke="#c0c0c0" stroke-width="1.0"/>
<line x1="486.60" y1="83.60" x2="486.60" y2="82.10" stroke="#9a9a9a" stroke-width="0.6"/>
<line x1="486.60" y1="11.00" x2="486.60" y2="12.50" stroke="#9a9a9a" stroke-width="0.6"/>
<line x1="510.60" y1="83.60" x2="510.60" y2="82.10" stroke="#9a9a9a" stroke-width="0.6"/>
<line x1="510.60" y1="11.00" x2="510.60" y2="12.50" stroke="#9a9a9a" stroke-width="0.6"/>
<line x1="534.60" y1="83.60" x2="534.60" y2="82.10" stroke="#9a9a9a" stroke-width="0.6"/>
<line x1="534.60" y1="11.00" x2="534.60" y2="12.50" stroke="#9a9a9a" stroke-width="0.6"/>
<line x1="462.60" y1="83.60" x2="464.10" y2="83.60" stroke="#9a9a9a" stroke-width="0.6"/>
<line x1="558.60" y1="83.60" x2="557.10" y2="83.60" stroke="#9a9a9a" stroke-width="0.6"/>
<text x="460.80" y="85.90" font-size="6.60" text-anchor="end" fill="#2a2a2a" textLength="13.12" lengthAdjust="spacingAndGlyphs" stroke="#2a2a2a" stroke-width="0.1">2000</text>
<line x1="462.60" y1="69.08" x2="464.10" y2="69.08" stroke="#9a9a9a" stroke-width="0.6"/>
<line x1="558.60" y1="69.08" x2="557.10" y2="69.08" stroke="#9a9a9a" stroke-width="0.6"/>
<text x="460.80" y="71.38" font-size="6.60" text-anchor="end" fill="#2a2a2a" textLength="13.12" lengthAdjust="spacingAndGlyphs" stroke="#2a2a2a" stroke-width="0.1">2200</text>
<line x1="462.60" y1="54.56" x2="464.10" y2="54.56" stroke="#9a9a9a" stroke-width="0.6"/>
<line x1="558.60" y1="54.56" x2="557.10" y2="54.56" stroke="#9a9a9a" stroke-width="0.6"/>
<text x="460.80" y="56.86" font-size="6.60" text-anchor="end" fill="#2a2a2a" textLength="13.12" lengthAdjust="spacingAndGlyphs" stroke="#2a2a2a" stroke-width="0.1">2400</text>
<line x1="462.60" y1="40.04" x2="464.10" y2="40.04" stroke="#9a9a9a" stroke-width="0.6"/>
<line x1="558.60" y1="40.04" x2="557.10" y2="40.04" stroke="#9a9a9a" stroke-width="0.6"/>
<text x="460.80" y="42.34" font-size="6.60" text-anchor="end" fill="#2a2a2a" textLength="13.12" lengthAdjust="spacingAndGlyphs" stroke="#2a2a2a" stroke-width="0.1">2600</text>
<line x1="462.60" y1="25.52" x2="464.10" y2="25.52" stroke="#9a9a9a" stroke-width="0.6"/>
<line x1="558.60" y1="25.52" x2="557.10" y2="25.52" stroke="#9a9a9a" stroke-width="0.6"/>
<text x="460.80" y="27.82" font-size="6.60" text-anchor="end" fill="#2a2a2a" textLength="13.12" lengthAdjust="spacingAndGlyphs" stroke="#2a2a2a" stroke-width="0.1">2800</text>
<line x1="462.60" y1="11.00" x2="464.10" y2="11.00" stroke="#9a9a9a" stroke-width="0.6"/>
<line x1="558.60" y1="11.00" x2="557.10" y2="11.00" stroke="#9a9a9a" stroke-width="0.6"/>
<text x="460.80" y="13.30" font-size="6.60" text-anchor="end" fill="#2a2a2a" textLength="13.12" lengthAdjust="spacingAndGlyphs" stroke="#2a2a2a" stroke-width="0.1">3000</text>
<text x="462.60" y="91.60" font-size="6.60" text-anchor="middle" fill="#2a2a2a" textLength="8.53" lengthAdjust="spacingAndGlyphs" stroke="#2a2a2a" stroke-width="0.1">-20</text>
<text x="486.60" y="91.60" font-size="6.60" text-anchor="middle" fill="#2a2a2a" textLength="8.53" lengthAdjust="spacingAndGlyphs" stroke="#2a2a2a" stroke-width="0.1">-10</text>
<text x="510.60" y="91.60" font-size="6.60" text-anchor="middle" fill="#2a2a2a" textLength="3.28" lengthAdjust="spacingAndGlyphs" stroke="#2a2a2a" stroke-width="0.1">0</text>
<text x="534.60" y="91.60" font-size="6.60" text-anchor="middle" fill="#2a2a2a" textLength="6.56" lengthAdjust="spacingAndGlyphs" stroke="#2a2a2a" stroke-width="0.1">10</text>
<text x="558.60" y="91.60" font-size="6.60" text-anchor="middle" fill="#2a2a2a" textLength="6.56" lengthAdjust="spacingAndGlyphs" stroke="#2a2a2a" stroke-width="0.1">20</text>
<g clip-path="url(#cb2)">
<line x1="462.60" y1="83.53" x2="558.60" y2="13.28" stroke="#f26060" stroke-width="0.9"/>
<line x1="470.76" y1="62.16" x2="550.44" y2="3.86" stroke="#f05050" stroke-width="0.9" stroke-dasharray="2.6,1.8"/>
<line x1="470.76" y1="92.95" x2="550.44" y2="34.64" stroke="#f05050" stroke-width="0.9" stroke-dasharray="2.6,1.8"/>
</g>
<circle cx="472.20" cy="66.10" r="1.7" fill="#7ab6ea" fill-opacity="0.75"/>
<path d="M470.80,66.10H473.60M472.20,64.70V67.50M471.22,65.12L473.18,67.08M471.22,67.08L473.18,65.12" stroke="#2264b0" stroke-width="0.75" fill="none"/>
<circle cx="472.20" cy="79.17" r="1.7" fill="#7ab6ea" fill-opacity="0.75"/>
<path d="M470.80,79.17H473.60M472.20,77.77V80.57M471.22,78.19L473.18,80.15M471.22,80.15L473.18,78.19" stroke="#2264b0" stroke-width="0.75" fill="none"/>
<circle cx="481.80" cy="60.80" r="1.7" fill="#7ab6ea" fill-opacity="0.75"/>
<path d="M480.40,60.80H483.20M481.80,59.40V62.20M480.82,59.82L482.78,61.78M480.82,61.78L482.78,59.82" stroke="#2264b0" stroke-width="0.75" fill="none"/>
<circle cx="481.80" cy="73.65" r="1.7" fill="#7ab6ea" fill-opacity="0.75"/>
<path d="M480.40,73.65H483.20M481.80,72.25V75.05M480.82,72.67L482.78,74.63M480.82,74.63L482.78,72.67" stroke="#2264b0" stroke-width="0.75" fill="none"/>
<circle cx="491.40" cy="55.87" r="1.7" fill="#7ab6ea" fill-opacity="0.75"/>
<path d="M490.00,55.87H492.80M491.40,54.47V57.27M490.42,54.89L492.38,56.85M490.42,56.85L492.38,54.89" stroke="#2264b0" stroke-width="0.75" fill="none"/>
<circle cx="491.40" cy="67.12" r="1.7" fill="#7ab6ea" fill-opacity="0.75"/>
<path d="M490.00,67.12H492.80M491.40,65.72V68.52M490.42,66.14L492.38,68.10M490.42,68.10L492.38,66.14" stroke="#2264b0" stroke-width="0.75" fill="none"/>
<circle cx="491.40" cy="76.70" r="1.7" fill="#7ab6ea" fill-opacity="0.75"/>
<path d="M490.00,76.70H492.80M491.40,75.30V78.10M490.42,75.72L492.38,77.68M490.42,77.68L492.38,75.72" stroke="#2264b0" stroke-width="0.75" fill="none"/>
<circle cx="501.00" cy="49.19" r="1.7" fill="#7ab6ea" fill-opacity="0.75"/>
<path d="M499.60,49.19H502.40M501.00,47.79V50.59M500.02,48.21L501.98,50.17M500.02,50.17L501.98,48.21" stroke="#2264b0" stroke-width="0.75" fill="none"/>
<circle cx="501.00" cy="59.42" r="1.7" fill="#7ab6ea" fill-opacity="0.75"/>
<path d="M499.60,59.42H502.40M501.00,58.02V60.82M500.02,58.44L501.98,60.40M500.02,60.40L501.98,58.44" stroke="#2264b0" stroke-width="0.75" fill="none"/>
<circle cx="501.00" cy="66.10" r="1.7" fill="#7ab6ea" fill-opacity="0.75"/>
<path d="M499.60,66.10H502.40M501.00,64.70V67.50M500.02,65.12L501.98,67.08M500.02,67.08L501.98,65.12" stroke="#2264b0" stroke-width="0.75" fill="none"/>
<circle cx="510.60" cy="59.42" r="1.7" fill="#7ab6ea" fill-opacity="0.75"/>
<path d="M509.20,59.42H512.00M510.60,58.02V60.82M509.62,58.44L511.58,60.40M509.62,60.40L511.58,58.44" stroke="#2264b0" stroke-width="0.75" fill="none"/>
<circle cx="510.60" cy="57.46" r="1.7" fill="#7ab6ea" fill-opacity="0.75"/>
<path d="M509.20,57.46H512.00M510.60,56.06V58.86M509.62,56.48L511.58,58.44M509.62,58.44L511.58,56.48" stroke="#2264b0" stroke-width="0.75" fill="none"/>
<circle cx="510.60" cy="55.29" r="1.7" fill="#7ab6ea" fill-opacity="0.75"/>
<path d="M509.20,55.29H512.00M510.60,53.89V56.69M509.62,54.31L511.58,56.27M509.62,56.27L511.58,54.31" stroke="#2264b0" stroke-width="0.75" fill="none"/>
<circle cx="510.60" cy="53.11" r="1.7" fill="#7ab6ea" fill-opacity="0.75"/>
<path d="M509.20,53.11H512.00M510.60,51.71V54.51M509.62,52.13L511.58,54.09M509.62,54.09L511.58,52.13" stroke="#2264b0" stroke-width="0.75" fill="none"/>
<circle cx="510.60" cy="50.93" r="1.7" fill="#7ab6ea" fill-opacity="0.75"/>
<path d="M509.20,50.93H512.00M510.60,49.53V52.33M509.62,49.95L511.58,51.91M509.62,51.91L511.58,49.95" stroke="#2264b0" stroke-width="0.75" fill="none"/>
<circle cx="510.60" cy="48.75" r="1.7" fill="#7ab6ea" fill-opacity="0.75"/>
<path d="M509.20,48.75H512.00M510.60,47.35V50.15M509.62,47.77L511.58,49.73M509.62,49.73L511.58,47.77" stroke="#2264b0" stroke-width="0.75" fill="none"/>
<circle cx="510.60" cy="46.57" r="1.7" fill="#7ab6ea" fill-opacity="0.75"/>
<path d="M509.20,46.57H512.00M510.60,45.17V47.97M509.62,45.59L511.58,47.55M509.62,47.55L511.58,45.59" stroke="#2264b0" stroke-width="0.75" fill="none"/>
<circle cx="510.60" cy="44.40" r="1.7" fill="#7ab6ea" fill-opacity="0.75"/>
<path d="M509.20,44.40H512.00M510.60,43.00V45.80M509.62,43.42L511.58,45.38M509.62,45.38L511.58,43.42" stroke="#2264b0" stroke-width="0.75" fill="none"/>
<circle cx="510.60" cy="42.22" r="1.7" fill="#7ab6ea" fill-opacity="0.75"/>
<path d="M509.20,42.22H512.00M510.60,40.82V43.62M509.62,41.24L511.58,43.20M509.62,43.20L511.58,41.24" stroke="#2264b0" stroke-width="0.75" fill="none"/>
<circle cx="510.60" cy="40.04" r="1.7" fill="#7ab6ea" fill-opacity="0.75"/>
<path d="M509.20,40.04H512.00M510.60,38.64V41.44M509.62,39.06L511.58,41.02M509.62,41.02L511.58,39.06" stroke="#2264b0" stroke-width="0.75" fill="none"/>
<circle cx="510.60" cy="37.86" r="1.7" fill="#7ab6ea" fill-opacity="0.75"/>
<path d="M509.20,37.86H512.00M510.60,36.46V39.26M509.62,36.88L511.58,38.84M509.62,38.84L511.58,36.88" stroke="#2264b0" stroke-width="0.75" fill="none"/>
<circle cx="510.60" cy="35.90" r="1.7" fill="#7ab6ea" fill-opacity="0.75"/>
<path d="M509.20,35.90H512.00M510.60,34.50V37.30M509.62,34.92L511.58,36.88M509.62,36.88L511.58,34.92" stroke="#2264b0" stroke-width="0.75" fill="none"/>
<circle cx="520.20" cy="36.92" r="1.7" fill="#7ab6ea" fill-opacity="0.75"/>
<path d="M518.80,36.92H521.60M520.20,35.52V38.32M519.22,35.94L521.18,37.90M519.22,37.90L521.18,35.94" stroke="#2264b0" stroke-width="0.75" fill="none"/>
<circle cx="520.20" cy="43.02" r="1.7" fill="#7ab6ea" fill-opacity="0.75"/>
<path d="M518.80,43.02H521.60M520.20,41.62V44.42M519.22,42.04L521.18,44.00M519.22,44.00L521.18,42.04" stroke="#2264b0" stroke-width="0.75" fill="none"/>
<circle cx="529.80" cy="36.92" r="1.7" fill="#7ab6ea" fill-opacity="0.75"/>
<path d="M528.40,36.92H531.20M529.80,35.52V38.32M528.82,35.94L530.78,37.90M528.82,37.90L530.78,35.94" stroke="#2264b0" stroke-width="0.75" fill="none"/>
<circle cx="529.80" cy="33.51" r="1.7" fill="#7ab6ea" fill-opacity="0.75"/>
<path d="M528.40,33.51H531.20M529.80,32.11V34.91M528.82,32.53L530.78,34.49M528.82,34.49L530.78,32.53" stroke="#2264b0" stroke-width="0.75" fill="none"/>
<circle cx="529.80" cy="29.80" r="1.7" fill="#7ab6ea" fill-opacity="0.75"/>
<path d="M528.40,29.80H531.20M529.80,28.40V31.20M528.82,28.82L530.78,30.78M528.82,30.78L530.78,28.82" stroke="#2264b0" stroke-width="0.75" fill="none"/>
<circle cx="539.40" cy="30.17" r="1.7" fill="#7ab6ea" fill-opacity="0.75"/>
<path d="M538.00,30.17H540.80M539.40,28.77V31.57M538.42,29.19L540.38,31.15M538.42,31.15L540.38,29.19" stroke="#2264b0" stroke-width="0.75" fill="none"/>
<circle cx="539.40" cy="27.70" r="1.7" fill="#7ab6ea" fill-opacity="0.75"/>
<path d="M538.00,27.70H540.80M539.40,26.30V29.10M538.42,26.72L540.38,28.68M538.42,28.68L540.38,26.72" stroke="#2264b0" stroke-width="0.75" fill="none"/>
<circle cx="539.40" cy="25.23" r="1.7" fill="#7ab6ea" fill-opacity="0.75"/>
<path d="M538.00,25.23H540.80M539.40,23.83V26.63M538.42,24.25L540.38,26.21M538.42,26.21L540.38,24.25" stroke="#2264b0" stroke-width="0.75" fill="none"/>
<circle cx="549.00" cy="25.67" r="1.7" fill="#7ab6ea" fill-opacity="0.75"/>
<path d="M547.60,25.67H550.40M549.00,24.27V27.07M548.02,24.69L549.98,26.65M548.02,26.65L549.98,24.69" stroke="#2264b0" stroke-width="0.75" fill="none"/>
<circle cx="549.00" cy="21.89" r="1.7" fill="#7ab6ea" fill-opacity="0.75"/>
<path d="M547.60,21.89H550.40M549.00,20.49V23.29M548.02,20.91L549.98,22.87M548.02,22.87L549.98,20.91" stroke="#2264b0" stroke-width="0.75" fill="none"/>
<circle cx="549.00" cy="18.55" r="1.7" fill="#7ab6ea" fill-opacity="0.75"/>
<path d="M547.60,18.55H550.40M549.00,17.15V19.95M548.02,17.57L549.98,19.53M548.02,19.53L549.98,17.57" stroke="#2264b0" stroke-width="0.75" fill="none"/>
<text x="533.60" y="72.00" font-size="5.30" text-anchor="middle" fill="#ff2020" textLength="40.30" lengthAdjust="spacingAndGlyphs">Best fit equation:</text>
<text x="533.60" y="78.70" font-size="5.30" text-anchor="middle" fill="#ff2020" textLength="45.00" lengthAdjust="spacingAndGlyphs">F=24.19x+2484.82</text>
<clipPath id="cb3"><rect x="337.1" y="112.0" width="95.09999999999997" height="72.80000000000001"/></clipPath>
<rect x="337.10" y="112.00" width="95.10" height="72.80" fill="none" stroke="#c0c0c0" stroke-width="1.0"/>
<line x1="360.88" y1="184.80" x2="360.88" y2="183.30" stroke="#9a9a9a" stroke-width="0.6"/>
<line x1="360.88" y1="112.00" x2="360.88" y2="113.50" stroke="#9a9a9a" stroke-width="0.6"/>
<line x1="384.65" y1="184.80" x2="384.65" y2="183.30" stroke="#9a9a9a" stroke-width="0.6"/>
<line x1="384.65" y1="112.00" x2="384.65" y2="113.50" stroke="#9a9a9a" stroke-width="0.6"/>
<line x1="408.43" y1="184.80" x2="408.43" y2="183.30" stroke="#9a9a9a" stroke-width="0.6"/>
<line x1="408.43" y1="112.00" x2="408.43" y2="113.50" stroke="#9a9a9a" stroke-width="0.6"/>
<line x1="337.10" y1="178.18" x2="338.60" y2="178.18" stroke="#9a9a9a" stroke-width="0.6"/>
<line x1="432.20" y1="178.18" x2="430.70" y2="178.18" stroke="#9a9a9a" stroke-width="0.6"/>
<text x="335.30" y="180.48" font-size="6.60" text-anchor="end" fill="#2a2a2a" textLength="13.12" lengthAdjust="spacingAndGlyphs" stroke="#2a2a2a" stroke-width="0.1">1600</text>
<line x1="337.10" y1="164.95" x2="338.60" y2="164.95" stroke="#9a9a9a" stroke-width="0.6"/>
<line x1="432.20" y1="164.95" x2="430.70" y2="164.95" stroke="#9a9a9a" stroke-width="0.6"/>
<text x="335.30" y="167.25" font-size="6.60" text-anchor="end" fill="#2a2a2a" textLength="13.12" lengthAdjust="spacingAndGlyphs" stroke="#2a2a2a" stroke-width="0.1">1800</text>
<line x1="337.10" y1="151.71" x2="338.60" y2="151.71" stroke="#9a9a9a" stroke-width="0.6"/>
<line x1="432.20" y1="151.71" x2="430.70" y2="151.71" stroke="#9a9a9a" stroke-width="0.6"/>
<text x="335.30" y="154.01" font-size="6.60" text-anchor="end" fill="#2a2a2a" textLength="13.12" lengthAdjust="spacingAndGlyphs" stroke="#2a2a2a" stroke-width="0.1">2000</text>
<line x1="337.10" y1="138.47" x2="338.60" y2="138.47" stroke="#9a9a9a" stroke-width="0.6"/>
<line x1="432.20" y1="138.47" x2="430.70" y2="138.47" stroke="#9a9a9a" stroke-width="0.6"/>
<text x="335.30" y="140.77" font-size="6.60" text-anchor="end" fill="#2a2a2a" textLength="13.12" lengthAdjust="spacingAndGlyphs" stroke="#2a2a2a" stroke-width="0.1">2200</text>
<line x1="337.10" y1="125.24" x2="338.60" y2="125.24" stroke="#9a9a9a" stroke-width="0.6"/>
<line x1="432.20" y1="125.24" x2="430.70" y2="125.24" stroke="#9a9a9a" stroke-width="0.6"/>
<text x="335.30" y="127.54" font-size="6.60" text-anchor="end" fill="#2a2a2a" textLength="13.12" lengthAdjust="spacingAndGlyphs" stroke="#2a2a2a" stroke-width="0.1">2400</text>
<line x1="337.10" y1="112.00" x2="338.60" y2="112.00" stroke="#9a9a9a" stroke-width="0.6"/>
<line x1="432.20" y1="112.00" x2="430.70" y2="112.00" stroke="#9a9a9a" stroke-width="0.6"/>
<text x="335.30" y="114.30" font-size="6.60" text-anchor="end" fill="#2a2a2a" textLength="13.12" lengthAdjust="spacingAndGlyphs" stroke="#2a2a2a" stroke-width="0.1">2600</text>
<text x="337.10" y="192.80" font-size="6.60" text-anchor="middle" fill="#2a2a2a" textLength="8.53" lengthAdjust="spacingAndGlyphs" stroke="#2a2a2a" stroke-width="0.1">-20</text>
<text x="360.88" y="192.80" font-size="6.60" text-anchor="middle" fill="#2a2a2a" textLength="8.53" lengthAdjust="spacingAndGlyphs" stroke="#2a2a2a" stroke-width="0.1">-10</text>
<text x="384.65" y="192.80" font-size="6.60" text-anchor="middle" fill="#2a2a2a" textLength="3.28" lengthAdjust="spacingAndGlyphs" stroke="#2a2a2a" stroke-width="0.1">0</text>
<text x="408.43" y="192.80" font-size="6.60" text-anchor="middle" fill="#2a2a2a" textLength="6.56" lengthAdjust="spacingAndGlyphs" stroke="#2a2a2a" stroke-width="0.1">10</text>
<text x="432.20" y="192.80" font-size="6.60" text-anchor="middle" fill="#2a2a2a" textLength="6.56" lengthAdjust="spacingAndGlyphs" stroke="#2a2a2a" stroke-width="0.1">20</text>
<g clip-path="url(#cb3)">
<line x1="337.10" y1="177.19" x2="432.20" y2="122.97" stroke="#f26060" stroke-width="0.9"/>
<line x1="345.42" y1="163.97" x2="423.88" y2="119.25" stroke="#f05050" stroke-width="0.9" stroke-dasharray="2.6,1.8"/>
<line x1="345.42" y1="180.92" x2="423.88" y2="136.19" stroke="#f05050" stroke-width="0.9" stroke-dasharray="2.6,1.8"/>
</g>
<circle cx="346.61" cy="170.50" r="1.7" fill="#7ab6ea" fill-opacity="0.75"/>
<path d="M345.21,170.50H348.01M346.61,169.10V171.90M345.63,169.52L347.59,171.48M345.63,171.48L347.59,169.52" stroke="#2264b0" stroke-width="0.75" fill="none"/>
<circle cx="346.61" cy="172.49" r="1.7" fill="#7ab6ea" fill-opacity="0.75"/>
<path d="M345.21,172.49H348.01M346.61,171.09V173.89M345.63,171.51L347.59,173.47M345.63,173.47L347.59,171.51" stroke="#2264b0" stroke-width="0.75" fill="none"/>
<circle cx="356.12" cy="164.81" r="1.7" fill="#7ab6ea" fill-opacity="0.75"/>
<path d="M354.72,164.81H357.52M356.12,163.41V166.21M355.14,163.83L357.10,165.79M355.14,165.79L357.10,163.83" stroke="#2264b0" stroke-width="0.75" fill="none"/>
<circle cx="356.12" cy="168.92" r="1.7" fill="#7ab6ea" fill-opacity="0.75"/>
<path d="M354.72,168.92H357.52M356.12,167.52V170.32M355.14,167.94L357.10,169.90M355.14,169.90L357.10,167.94" stroke="#2264b0" stroke-width="0.75" fill="none"/>
<circle cx="365.63" cy="158.79" r="1.7" fill="#7ab6ea" fill-opacity="0.75"/>
<path d="M364.23,158.79H367.03M365.63,157.39V160.19M364.65,157.81L366.61,159.77M364.65,159.77L366.61,157.81" stroke="#2264b0" stroke-width="0.75" fill="none"/>
<circle cx="365.63" cy="164.81" r="1.7" fill="#7ab6ea" fill-opacity="0.75"/>
<path d="M364.23,164.81H367.03M365.63,163.41V166.21M364.65,163.83L366.61,165.79M364.65,165.79L366.61,163.83" stroke="#2264b0" stroke-width="0.75" fill="none"/>
<circle cx="375.14" cy="151.84" r="1.7" fill="#7ab6ea" fill-opacity="0.75"/>
<path d="M373.74,151.84H376.54M375.14,150.44V153.24M374.16,150.86L376.12,152.82M374.16,152.82L376.12,150.86" stroke="#2264b0" stroke-width="0.75" fill="none"/>
<circle cx="375.14" cy="159.98" r="1.7" fill="#7ab6ea" fill-opacity="0.75"/>
<path d="M373.74,159.98H376.54M375.14,158.58V161.38M374.16,159.00L376.12,160.96M374.16,160.96L376.12,159.00" stroke="#2264b0" stroke-width="0.75" fill="none"/>
<circle cx="384.65" cy="144.43" r="1.7" fill="#7ab6ea" fill-opacity="0.75"/>
<path d="M383.25,144.43H386.05M384.65,143.03V145.83M383.67,143.45L385.63,145.41M383.67,145.41L385.63,143.45" stroke="#2264b0" stroke-width="0.75" fill="none"/>
<circle cx="384.65" cy="145.75" r="1.7" fill="#7ab6ea" fill-opacity="0.75"/>
<path d="M383.25,145.75H386.05M384.65,144.35V147.15M383.67,144.77L385.63,146.73M383.67,146.73L385.63,144.77" stroke="#2264b0" stroke-width="0.75" fill="none"/>
<circle cx="384.65" cy="149.72" r="1.7" fill="#7ab6ea" fill-opacity="0.75"/>
<path d="M383.25,149.72H386.05M384.65,148.32V151.12M383.67,148.74L385.63,150.70M383.67,150.70L385.63,148.74" stroke="#2264b0" stroke-width="0.75" fill="none"/>
<circle cx="384.65" cy="151.71" r="1.7" fill="#7ab6ea" fill-opacity="0.75"/>
<path d="M383.25,151.71H386.05M384.65,150.31V153.11M383.67,150.73L385.63,152.69M383.67,152.69L385.63,150.73" stroke="#2264b0" stroke-width="0.75" fill="none"/>
<circle cx="384.65" cy="154.36" r="1.7" fill="#7ab6ea" fill-opacity="0.75"/>
<path d="M383.25,154.36H386.05M384.65,152.96V155.76M383.67,153.38L385.63,155.34M383.67,155.34L385.63,153.38" stroke="#2264b0" stroke-width="0.75" fill="none"/>
<circle cx="384.65" cy="155.68" r="1.7" fill="#7ab6ea" fill-opacity="0.75"/>
<path d="M383.25,155.68H386.05M384.65,154.28V157.08M383.67,154.70L385.63,156.66M383.67,156.66L385.63,154.70" stroke="#2264b0" stroke-width="0.75" fill="none"/>
<circle cx="394.16" cy="139.00" r="1.7" fill="#7ab6ea" fill-opacity="0.75"/>
<path d="M392.76,139.00H395.56M394.16,137.60V140.40M393.18,138.02L395.14,139.98M393.18,139.98L395.14,138.02" stroke="#2264b0" stroke-width="0.75" fill="none"/>
<circle cx="394.16" cy="148.60" r="1.7" fill="#7ab6ea" fill-opacity="0.75"/>
<path d="M392.76,148.60H395.56M394.16,147.20V150.00M393.18,147.62L395.14,149.58M393.18,149.58L395.14,147.62" stroke="#2264b0" stroke-width="0.75" fill="none"/>
<circle cx="403.67" cy="134.04" r="1.7" fill="#7ab6ea" fill-opacity="0.75"/>
<path d="M402.27,134.04H405.07M403.67,132.64V135.44M402.69,133.06L404.65,135.02M402.69,135.02L404.65,133.06" stroke="#2264b0" stroke-width="0.75" fill="none"/>
<circle cx="403.67" cy="136.02" r="1.7" fill="#7ab6ea" fill-opacity="0.75"/>
<path d="M402.27,136.02H405.07M403.67,134.62V137.42M402.69,135.04L404.65,137.00M402.69,137.00L404.65,135.04" stroke="#2264b0" stroke-width="0.75" fill="none"/>
<circle cx="403.67" cy="142.51" r="1.7" fill="#7ab6ea" fill-opacity="0.75"/>
<path d="M402.27,142.51H405.07M403.67,141.11V143.91M402.69,141.53L404.65,143.49M402.69,143.49L404.65,141.53" stroke="#2264b0" stroke-width="0.75" fill="none"/>
<circle cx="413.18" cy="129.54" r="1.7" fill="#7ab6ea" fill-opacity="0.75"/>
<path d="M411.78,129.54H414.58M413.18,128.14V130.94M412.20,128.56L414.16,130.52M412.20,130.52L414.16,128.56" stroke="#2264b0" stroke-width="0.75" fill="none"/>
<circle cx="413.18" cy="131.52" r="1.7" fill="#7ab6ea" fill-opacity="0.75"/>
<path d="M411.78,131.52H414.58M413.18,130.12V132.92M412.20,130.54L414.16,132.50M412.20,132.50L414.16,130.54" stroke="#2264b0" stroke-width="0.75" fill="none"/>
<circle cx="413.18" cy="136.42" r="1.7" fill="#7ab6ea" fill-opacity="0.75"/>
<path d="M411.78,136.42H414.58M413.18,135.02V137.82M412.20,135.44L414.16,137.40M412.20,137.40L414.16,135.44" stroke="#2264b0" stroke-width="0.75" fill="none"/>
<circle cx="413.18" cy="137.61" r="1.7" fill="#7ab6ea" fill-opacity="0.75"/>
<path d="M411.78,137.61H414.58M413.18,136.21V139.01M412.20,136.63L414.16,138.59M412.20,138.59L414.16,136.63" stroke="#2264b0" stroke-width="0.75" fill="none"/>
<circle cx="422.69" cy="125.83" r="1.7" fill="#7ab6ea" fill-opacity="0.75"/>
<path d="M421.29,125.83H424.09M422.69,124.43V127.23M421.71,124.85L423.67,126.81M421.71,126.81L423.67,124.85" stroke="#2264b0" stroke-width="0.75" fill="none"/>
<circle cx="422.69" cy="128.28" r="1.7" fill="#7ab6ea" fill-opacity="0.75"/>
<path d="M421.29,128.28H424.09M422.69,126.88V129.68M421.71,127.30L423.67,129.26M421.71,129.26L423.67,127.30" stroke="#2264b0" stroke-width="0.75" fill="none"/>
<circle cx="422.69" cy="131.92" r="1.7" fill="#7ab6ea" fill-opacity="0.75"/>
<path d="M421.29,131.92H424.09M422.69,130.52V133.32M421.71,130.94L423.67,132.90M421.71,132.90L423.67,130.94" stroke="#2264b0" stroke-width="0.75" fill="none"/>
<circle cx="422.69" cy="133.51" r="1.7" fill="#7ab6ea" fill-opacity="0.75"/>
<path d="M421.29,133.51H424.09M422.69,132.11V134.91M421.71,132.53L423.67,134.49M421.71,134.49L423.67,132.53" stroke="#2264b0" stroke-width="0.75" fill="none"/>
<text x="407.20" y="173.20" font-size="5.30" text-anchor="middle" fill="#ff2020" textLength="40.30" lengthAdjust="spacingAndGlyphs">Best fit equation:</text>
<text x="407.20" y="179.90" font-size="5.30" text-anchor="middle" fill="#ff2020" textLength="45.00" lengthAdjust="spacingAndGlyphs">F=20.48x+2024.59</text>
<clipPath id="cb4"><rect x="462.5" y="111.6" width="95.89999999999998" height="72.9"/></clipPath>
<rect x="462.50" y="111.60" width="95.90" height="72.90" fill="none" stroke="#c0c0c0" stroke-width="1.0"/>
<line x1="486.48" y1="184.50" x2="486.48" y2="183.00" stroke="#9a9a9a" stroke-width="0.6"/>
<line x1="486.48" y1="111.60" x2="486.48" y2="113.10" stroke="#9a9a9a" stroke-width="0.6"/>
<line x1="510.45" y1="184.50" x2="510.45" y2="183.00" stroke="#9a9a9a" stroke-width="0.6"/>
<line x1="510.45" y1="111.60" x2="510.45" y2="113.10" stroke="#9a9a9a" stroke-width="0.6"/>
<line x1="534.42" y1="184.50" x2="534.42" y2="183.00" stroke="#9a9a9a" stroke-width="0.6"/>
<line x1="534.42" y1="111.60" x2="534.42" y2="113.10" stroke="#9a9a9a" stroke-width="0.6"/>
<line x1="462.50" y1="177.87" x2="464.00" y2="177.87" stroke="#9a9a9a" stroke-width="0.6"/>
<line x1="558.40" y1="177.87" x2="556.90" y2="177.87" stroke="#9a9a9a" stroke-width="0.6"/>
<text x="460.70" y="180.17" font-size="6.60" text-anchor="end" fill="#2a2a2a" textLength="13.12" lengthAdjust="spacingAndGlyphs" stroke="#2a2a2a" stroke-width="0.1">1600</text>
<line x1="462.50" y1="164.62" x2="464.00" y2="164.62" stroke="#9a9a9a" stroke-width="0.6"/>
<line x1="558.40" y1="164.62" x2="556.90" y2="164.62" stroke="#9a9a9a" stroke-width="0.6"/>
<text x="460.70" y="166.92" font-size="6.60" text-anchor="end" fill="#2a2a2a" textLength="13.12" lengthAdjust="spacingAndGlyphs" stroke="#2a2a2a" stroke-width="0.1">1800</text>
<line x1="462.50" y1="151.36" x2="464.00" y2="151.36" stroke="#9a9a9a" stroke-width="0.6"/>
<line x1="558.40" y1="151.36" x2="556.90" y2="151.36" stroke="#9a9a9a" stroke-width="0.6"/>
<text x="460.70" y="153.66" font-size="6.60" text-anchor="end" fill="#2a2a2a" textLength="13.12" lengthAdjust="spacingAndGlyphs" stroke="#2a2a2a" stroke-width="0.1">2000</text>
<line x1="462.50" y1="138.11" x2="464.00" y2="138.11" stroke="#9a9a9a" stroke-width="0.6"/>
<line x1="558.40" y1="138.11" x2="556.90" y2="138.11" stroke="#9a9a9a" stroke-width="0.6"/>
<text x="460.70" y="140.41" font-size="6.60" text-anchor="end" fill="#2a2a2a" textLength="13.12" lengthAdjust="spacingAndGlyphs" stroke="#2a2a2a" stroke-width="0.1">2200</text>
<line x1="462.50" y1="124.85" x2="464.00" y2="124.85" stroke="#9a9a9a" stroke-width="0.6"/>
<line x1="558.40" y1="124.85" x2="556.90" y2="124.85" stroke="#9a9a9a" stroke-width="0.6"/>
<text x="460.70" y="127.15" font-size="6.60" text-anchor="end" fill="#2a2a2a" textLength="13.12" lengthAdjust="spacingAndGlyphs" stroke="#2a2a2a" stroke-width="0.1">2400</text>
<line x1="462.50" y1="111.60" x2="464.00" y2="111.60" stroke="#9a9a9a" stroke-width="0.6"/>
<line x1="558.40" y1="111.60" x2="556.90" y2="111.60" stroke="#9a9a9a" stroke-width="0.6"/>
<text x="460.70" y="113.90" font-size="6.60" text-anchor="end" fill="#2a2a2a" textLength="13.12" lengthAdjust="spacingAndGlyphs" stroke="#2a2a2a" stroke-width="0.1">2600</text>
<text x="462.50" y="192.50" font-size="6.60" text-anchor="middle" fill="#2a2a2a" textLength="8.53" lengthAdjust="spacingAndGlyphs" stroke="#2a2a2a" stroke-width="0.1">-20</text>
<text x="486.48" y="192.50" font-size="6.60" text-anchor="middle" fill="#2a2a2a" textLength="8.53" lengthAdjust="spacingAndGlyphs" stroke="#2a2a2a" stroke-width="0.1">-10</text>
<text x="510.45" y="192.50" font-size="6.60" text-anchor="middle" fill="#2a2a2a" textLength="3.28" lengthAdjust="spacingAndGlyphs" stroke="#2a2a2a" stroke-width="0.1">0</text>
<text x="534.42" y="192.50" font-size="6.60" text-anchor="middle" fill="#2a2a2a" textLength="6.56" lengthAdjust="spacingAndGlyphs" stroke="#2a2a2a" stroke-width="0.1">10</text>
<text x="558.40" y="192.50" font-size="6.60" text-anchor="middle" fill="#2a2a2a" textLength="6.56" lengthAdjust="spacingAndGlyphs" stroke="#2a2a2a" stroke-width="0.1">20</text>
<g clip-path="url(#cb4)">
<line x1="462.50" y1="177.49" x2="558.40" y2="121.90" stroke="#f26060" stroke-width="0.9"/>
<line x1="470.89" y1="166.33" x2="550.01" y2="120.47" stroke="#f05050" stroke-width="0.9" stroke-dasharray="2.6,1.8"/>
<line x1="470.89" y1="178.92" x2="550.01" y2="133.06" stroke="#f05050" stroke-width="0.9" stroke-dasharray="2.6,1.8"/>
</g>
<circle cx="472.09" cy="165.81" r="1.7" fill="#7ab6ea" fill-opacity="0.75"/>
<path d="M470.69,165.81H473.49M472.09,164.41V167.21M471.11,164.83L473.07,166.79M471.11,166.79L473.07,164.83" stroke="#2264b0" stroke-width="0.75" fill="none"/>
<circle cx="472.09" cy="170.58" r="1.7" fill="#7ab6ea" fill-opacity="0.75"/>
<path d="M470.69,170.58H473.49M472.09,169.18V171.98M471.11,169.60L473.07,171.56M471.11,171.56L473.07,169.60" stroke="#2264b0" stroke-width="0.75" fill="none"/>
<circle cx="472.09" cy="175.29" r="1.7" fill="#7ab6ea" fill-opacity="0.75"/>
<path d="M470.69,175.29H473.49M472.09,173.89V176.69M471.11,174.31L473.07,176.27M471.11,176.27L473.07,174.31" stroke="#2264b0" stroke-width="0.75" fill="none"/>
<circle cx="481.68" cy="162.10" r="1.7" fill="#7ab6ea" fill-opacity="0.75"/>
<path d="M480.28,162.10H483.08M481.68,160.70V163.50M480.70,161.12L482.66,163.08M480.70,163.08L482.66,161.12" stroke="#2264b0" stroke-width="0.75" fill="none"/>
<circle cx="481.68" cy="166.21" r="1.7" fill="#7ab6ea" fill-opacity="0.75"/>
<path d="M480.28,166.21H483.08M481.68,164.81V167.61M480.70,165.23L482.66,167.19M480.70,167.19L482.66,165.23" stroke="#2264b0" stroke-width="0.75" fill="none"/>
<circle cx="481.68" cy="170.58" r="1.7" fill="#7ab6ea" fill-opacity="0.75"/>
<path d="M480.28,170.58H483.08M481.68,169.18V171.98M480.70,169.60L482.66,171.56M480.70,171.56L482.66,169.60" stroke="#2264b0" stroke-width="0.75" fill="none"/>
<circle cx="491.27" cy="157.00" r="1.7" fill="#7ab6ea" fill-opacity="0.75"/>
<path d="M489.87,157.00H492.67M491.27,155.60V158.40M490.29,156.02L492.25,157.98M490.29,157.98L492.25,156.02" stroke="#2264b0" stroke-width="0.75" fill="none"/>
<circle cx="491.27" cy="160.11" r="1.7" fill="#7ab6ea" fill-opacity="0.75"/>
<path d="M489.87,160.11H492.67M491.27,158.71V161.51M490.29,159.13L492.25,161.09M490.29,161.09L492.25,159.13" stroke="#2264b0" stroke-width="0.75" fill="none"/>
<circle cx="491.27" cy="164.49" r="1.7" fill="#7ab6ea" fill-opacity="0.75"/>
<path d="M489.87,164.49H492.67M491.27,163.09V165.89M490.29,163.51L492.25,165.47M490.29,165.47L492.25,163.51" stroke="#2264b0" stroke-width="0.75" fill="none"/>
<circle cx="500.86" cy="151.89" r="1.7" fill="#7ab6ea" fill-opacity="0.75"/>
<path d="M499.46,151.89H502.26M500.86,150.49V153.29M499.88,150.91L501.84,152.87M499.88,152.87L501.84,150.91" stroke="#2264b0" stroke-width="0.75" fill="none"/>
<circle cx="500.86" cy="155.01" r="1.7" fill="#7ab6ea" fill-opacity="0.75"/>
<path d="M499.46,155.01H502.26M500.86,153.61V156.41M499.88,154.03L501.84,155.99M499.88,155.99L501.84,154.03" stroke="#2264b0" stroke-width="0.75" fill="none"/>
<circle cx="500.86" cy="159.12" r="1.7" fill="#7ab6ea" fill-opacity="0.75"/>
<path d="M499.46,159.12H502.26M500.86,157.72V160.52M499.88,158.14L501.84,160.10M499.88,160.10L501.84,158.14" stroke="#2264b0" stroke-width="0.75" fill="none"/>
<circle cx="510.45" cy="155.01" r="1.7" fill="#7ab6ea" fill-opacity="0.75"/>
<path d="M509.05,155.01H511.85M510.45,153.61V156.41M509.47,154.03L511.43,155.99M509.47,155.99L511.43,154.03" stroke="#2264b0" stroke-width="0.75" fill="none"/>
<circle cx="510.45" cy="153.35" r="1.7" fill="#7ab6ea" fill-opacity="0.75"/>
<path d="M509.05,153.35H511.85M510.45,151.95V154.75M509.47,152.37L511.43,154.33M509.47,154.33L511.43,152.37" stroke="#2264b0" stroke-width="0.75" fill="none"/>
<circle cx="510.45" cy="151.69" r="1.7" fill="#7ab6ea" fill-opacity="0.75"/>
<path d="M509.05,151.69H511.85M510.45,150.29V153.09M509.47,150.72L511.43,152.67M509.47,152.67L511.43,150.72" stroke="#2264b0" stroke-width="0.75" fill="none"/>
<circle cx="510.45" cy="150.04" r="1.7" fill="#7ab6ea" fill-opacity="0.75"/>
<path d="M509.05,150.04H511.85M510.45,148.64V151.44M509.47,149.06L511.43,151.02M509.47,151.02L511.43,149.06" stroke="#2264b0" stroke-width="0.75" fill="none"/>
<circle cx="510.45" cy="148.38" r="1.7" fill="#7ab6ea" fill-opacity="0.75"/>
<path d="M509.05,148.38H511.85M510.45,146.98V149.78M509.47,147.40L511.43,149.36M509.47,149.36L511.43,147.40" stroke="#2264b0" stroke-width="0.75" fill="none"/>
<circle cx="510.45" cy="146.72" r="1.7" fill="#7ab6ea" fill-opacity="0.75"/>
<path d="M509.05,146.72H511.85M510.45,145.32V148.12M509.47,145.74L511.43,147.70M509.47,147.70L511.43,145.74" stroke="#2264b0" stroke-width="0.75" fill="none"/>
<circle cx="510.45" cy="145.07" r="1.7" fill="#7ab6ea" fill-opacity="0.75"/>
<path d="M509.05,145.07H511.85M510.45,143.67V146.47M509.47,144.09L511.43,146.05M509.47,146.05L511.43,144.09" stroke="#2264b0" stroke-width="0.75" fill="none"/>
<circle cx="510.45" cy="144.21" r="1.7" fill="#7ab6ea" fill-opacity="0.75"/>
<path d="M509.05,144.21H511.85M510.45,142.81V145.61M509.47,143.23L511.43,145.19M509.47,145.19L511.43,143.23" stroke="#2264b0" stroke-width="0.75" fill="none"/>
<circle cx="520.04" cy="141.75" r="1.7" fill="#7ab6ea" fill-opacity="0.75"/>
<path d="M518.64,141.75H521.44M520.04,140.35V143.15M519.06,140.77L521.02,142.73M519.06,142.73L521.02,140.77" stroke="#2264b0" stroke-width="0.75" fill="none"/>
<circle cx="520.04" cy="145.73" r="1.7" fill="#7ab6ea" fill-opacity="0.75"/>
<path d="M518.64,145.73H521.44M520.04,144.33V147.13M519.06,144.75L521.02,146.71M519.06,146.71L521.02,144.75" stroke="#2264b0" stroke-width="0.75" fill="none"/>
<circle cx="529.63" cy="136.05" r="1.7" fill="#7ab6ea" fill-opacity="0.75"/>
<path d="M528.23,136.05H531.03M529.63,134.65V137.45M528.65,135.07L530.61,137.03M528.65,137.03L530.61,135.07" stroke="#2264b0" stroke-width="0.75" fill="none"/>
<circle cx="529.63" cy="140.56" r="1.7" fill="#7ab6ea" fill-opacity="0.75"/>
<path d="M528.23,140.56H531.03M529.63,139.16V141.96M528.65,139.58L530.61,141.54M528.65,141.54L530.61,139.58" stroke="#2264b0" stroke-width="0.75" fill="none"/>
<circle cx="539.22" cy="130.36" r="1.7" fill="#7ab6ea" fill-opacity="0.75"/>
<path d="M537.82,130.36H540.62M539.22,128.96V131.76M538.24,129.38L540.20,131.34M538.24,131.34L540.20,129.38" stroke="#2264b0" stroke-width="0.75" fill="none"/>
<circle cx="539.22" cy="135.06" r="1.7" fill="#7ab6ea" fill-opacity="0.75"/>
<path d="M537.82,135.06H540.62M539.22,133.66V136.46M538.24,134.08L540.20,136.04M538.24,136.04L540.20,134.08" stroke="#2264b0" stroke-width="0.75" fill="none"/>
<circle cx="548.81" cy="125.45" r="1.7" fill="#7ab6ea" fill-opacity="0.75"/>
<path d="M547.41,125.45H550.21M548.81,124.05V126.85M547.83,124.47L549.79,126.43M547.83,126.43L549.79,124.47" stroke="#2264b0" stroke-width="0.75" fill="none"/>
<circle cx="548.81" cy="130.95" r="1.7" fill="#7ab6ea" fill-opacity="0.75"/>
<path d="M547.41,130.95H550.21M548.81,129.55V132.35M547.83,129.97L549.79,131.93M547.83,131.93L549.79,129.97" stroke="#2264b0" stroke-width="0.75" fill="none"/>
<text x="533.40" y="172.90" font-size="5.30" text-anchor="middle" fill="#ff2020" textLength="40.30" lengthAdjust="spacingAndGlyphs">Best fit equation:</text>
<text x="533.40" y="179.60" font-size="5.30" text-anchor="middle" fill="#ff2020" textLength="45.00" lengthAdjust="spacingAndGlyphs">F=20.97x+2025.17</text>
<text x="447.60" y="200.60" font-size="7.00" text-anchor="middle" fill="#2a2a2a" textLength="44.00" lengthAdjust="spacingAndGlyphs">Inner Product</text>
<text x="0" y="0" font-size="7" fill="#303030" text-anchor="middle" textLength="48.5" lengthAdjust="spacingAndGlyphs" transform="translate(319.4,97.5) rotate(-90)">Frequency(Hz)</text>
<text x="9.00" y="215.10" font-size="11.00" text-anchor="start" fill="#111" font-weight="bold">c</text>
<text x="178.30" y="208.90" font-size="7.40" text-anchor="middle" fill="#000" font-weight="bold" textLength="134.50" lengthAdjust="spacingAndGlyphs">Frequency at [0,0] Preferred Velocity</text>
<rect x="62.50" y="214.10" width="99.40" height="183.10" fill="none" stroke="#c0c0c0" stroke-width="1.0"/>
<line x1="62.50" y1="397.20" x2="64.30" y2="397.20" stroke="#9a9a9a" stroke-width="0.6"/>
<line x1="161.90" y1="397.20" x2="160.10" y2="397.20" stroke="#9a9a9a" stroke-width="0.6"/>
<text x="60.50" y="399.70" font-size="7.00" text-anchor="end" fill="#2a2a2a" textLength="14.24" lengthAdjust="spacingAndGlyphs" stroke="#2a2a2a" stroke-width="0.1">2400</text>
<line x1="62.50" y1="360.58" x2="64.30" y2="360.58" stroke="#9a9a9a" stroke-width="0.6"/>
<line x1="161.90" y1="360.58" x2="160.10" y2="360.58" stroke="#9a9a9a" stroke-width="0.6"/>
<text x="60.50" y="363.08" font-size="7.00" text-anchor="end" fill="#2a2a2a" textLength="14.24" lengthAdjust="spacingAndGlyphs" stroke="#2a2a2a" stroke-width="0.1">2450</text>
<line x1="62.50" y1="323.96" x2="64.30" y2="323.96" stroke="#9a9a9a" stroke-width="0.6"/>
<line x1="161.90" y1="323.96" x2="160.10" y2="323.96" stroke="#9a9a9a" stroke-width="0.6"/>
<text x="60.50" y="326.46" font-size="7.00" text-anchor="end" fill="#2a2a2a" textLength="14.24" lengthAdjust="spacingAndGlyphs" stroke="#2a2a2a" stroke-width="0.1">2500</text>
<line x1="62.50" y1="287.34" x2="64.30" y2="287.34" stroke="#9a9a9a" stroke-width="0.6"/>
<line x1="161.90" y1="287.34" x2="160.10" y2="287.34" stroke="#9a9a9a" stroke-width="0.6"/>
<text x="60.50" y="289.84" font-size="7.00" text-anchor="end" fill="#2a2a2a" textLength="14.24" lengthAdjust="spacingAndGlyphs" stroke="#2a2a2a" stroke-width="0.1">2550</text>
<line x1="62.50" y1="250.72" x2="64.30" y2="250.72" stroke="#9a9a9a" stroke-width="0.6"/>
<line x1="161.90" y1="250.72" x2="160.10" y2="250.72" stroke="#9a9a9a" stroke-width="0.6"/>
<text x="60.50" y="253.22" font-size="7.00" text-anchor="end" fill="#2a2a2a" textLength="14.24" lengthAdjust="spacingAndGlyphs" stroke="#2a2a2a" stroke-width="0.1">2600</text>
<line x1="62.50" y1="214.10" x2="64.30" y2="214.10" stroke="#9a9a9a" stroke-width="0.6"/>
<line x1="161.90" y1="214.10" x2="160.10" y2="214.10" stroke="#9a9a9a" stroke-width="0.6"/>
<text x="60.50" y="216.60" font-size="7.00" text-anchor="end" fill="#2a2a2a" textLength="14.24" lengthAdjust="spacingAndGlyphs" stroke="#2a2a2a" stroke-width="0.1">2650</text>
<line x1="62.50" y1="397.20" x2="62.50" y2="395.40" stroke="#9a9a9a" stroke-width="0.6"/>
<line x1="62.50" y1="214.10" x2="62.50" y2="215.90" stroke="#9a9a9a" stroke-width="0.6"/>
<text x="62.50" y="406.40" font-size="7.00" text-anchor="middle" fill="#2a2a2a" textLength="5.69" lengthAdjust="spacingAndGlyphs" stroke="#2a2a2a" stroke-width="0.1">-4</text>
<line x1="87.35" y1="397.20" x2="87.35" y2="395.40" stroke="#9a9a9a" stroke-width="0.6"/>
<line x1="87.35" y1="214.10" x2="87.35" y2="215.90" stroke="#9a9a9a" stroke-width="0.6"/>
<text x="87.35" y="406.40" font-size="7.00" text-anchor="middle" fill="#2a2a2a" textLength="5.69" lengthAdjust="spacingAndGlyphs" stroke="#2a2a2a" stroke-width="0.1">-2</text>
<line x1="112.20" y1="397.20" x2="112.20" y2="395.40" stroke="#9a9a9a" stroke-width="0.6"/>
<line x1="112.20" y1="214.10" x2="112.20" y2="215.90" stroke="#9a9a9a" stroke-width="0.6"/>
<text x="112.20" y="406.40" font-size="7.00" text-anchor="middle" fill="#2a2a2a" textLength="3.56" lengthAdjust="spacingAndGlyphs" stroke="#2a2a2a" stroke-width="0.1">0</text>
<line x1="137.05" y1="397.20" x2="137.05" y2="395.40" stroke="#9a9a9a" stroke-width="0.6"/>
<line x1="137.05" y1="214.10" x2="137.05" y2="215.90" stroke="#9a9a9a" stroke-width="0.6"/>
<text x="137.05" y="406.40" font-size="7.00" text-anchor="middle" fill="#2a2a2a" textLength="3.56" lengthAdjust="spacingAndGlyphs" stroke="#2a2a2a" stroke-width="0.1">2</text>
<line x1="161.90" y1="397.20" x2="161.90" y2="395.40" stroke="#9a9a9a" stroke-width="0.6"/>
<line x1="161.90" y1="214.10" x2="161.90" y2="215.90" stroke="#9a9a9a" stroke-width="0.6"/>
<text x="161.90" y="406.40" font-size="7.00" text-anchor="middle" fill="#2a2a2a" textLength="3.56" lengthAdjust="spacingAndGlyphs" stroke="#2a2a2a" stroke-width="0.1">4</text>
<circle cx="62.50" cy="292.47" r="1.2" fill="#7ab6ea" fill-opacity="0.75"/>
<path d="M60.90,292.47H64.10M62.50,290.87V294.07M61.38,291.35L63.62,293.59M61.38,293.59L63.62,291.35" stroke="#2f7cc8" stroke-width="0.75" fill="none"/>
<circle cx="74.92" cy="296.86" r="1.2" fill="#7ab6ea" fill-opacity="0.75"/>
<path d="M73.33,296.86H76.52M74.92,295.26V298.46M73.80,295.74L76.05,297.98M73.80,297.98L76.05,295.74" stroke="#2f7cc8" stroke-width="0.75" fill="none"/>
<circle cx="87.35" cy="307.11" r="1.2" fill="#7ab6ea" fill-opacity="0.75"/>
<path d="M85.75,307.11H88.95M87.35,305.51V308.71M86.23,305.99L88.47,308.23M86.23,308.23L88.47,305.99" stroke="#2f7cc8" stroke-width="0.75" fill="none"/>
<circle cx="99.78" cy="310.78" r="1.2" fill="#7ab6ea" fill-opacity="0.75"/>
<path d="M98.18,310.78H101.38M99.78,309.18V312.38M98.66,309.66L100.90,311.90M98.66,311.90L100.90,309.66" stroke="#2f7cc8" stroke-width="0.75" fill="none"/>
<circle cx="112.20" cy="317.37" r="1.2" fill="#7ab6ea" fill-opacity="0.75"/>
<path d="M110.60,317.37H113.80M112.20,315.77V318.97M111.08,316.25L113.32,318.49M111.08,318.49L113.32,316.25" stroke="#2f7cc8" stroke-width="0.75" fill="none"/>
<circle cx="124.62" cy="323.96" r="1.2" fill="#7ab6ea" fill-opacity="0.75"/>
<path d="M123.03,323.96H126.22M124.62,322.36V325.56M123.50,322.84L125.75,325.08M123.50,325.08L125.75,322.84" stroke="#2f7cc8" stroke-width="0.75" fill="none"/>
<circle cx="137.05" cy="334.21" r="1.2" fill="#7ab6ea" fill-opacity="0.75"/>
<path d="M135.45,334.21H138.65M137.05,332.61V335.81M135.93,333.09L138.17,335.33M135.93,335.33L138.17,333.09" stroke="#2f7cc8" stroke-width="0.75" fill="none"/>
<circle cx="149.48" cy="332.02" r="1.2" fill="#7ab6ea" fill-opacity="0.75"/>
<path d="M147.88,332.02H151.08M149.48,330.42V333.62M148.36,330.90L150.60,333.14M148.36,333.14L150.60,330.90" stroke="#2f7cc8" stroke-width="0.75" fill="none"/>
<circle cx="161.90" cy="337.88" r="1.2" fill="#7ab6ea" fill-opacity="0.75"/>
<path d="M160.30,337.88H163.50M161.90,336.28V339.48M160.78,336.76L163.02,339.00M160.78,339.00L163.02,336.76" stroke="#2f7cc8" stroke-width="0.75" fill="none"/>
<text x="112.20" y="415.6" font-size="7" fill="#2a2a2a" text-anchor="middle" textLength="39" lengthAdjust="spacingAndGlyphs"><tspan font-style="italic">x</tspan> component</text>
<rect x="194.40" y="214.10" width="100.20" height="183.10" fill="none" stroke="#c0c0c0" stroke-width="1.0"/>
<line x1="194.40" y1="397.20" x2="196.20" y2="397.20" stroke="#9a9a9a" stroke-width="0.6"/>
<line x1="294.60" y1="397.20" x2="292.80" y2="397.20" stroke="#9a9a9a" stroke-width="0.6"/>
<text x="192.40" y="399.70" font-size="7.00" text-anchor="end" fill="#2a2a2a" textLength="14.24" lengthAdjust="spacingAndGlyphs" stroke="#2a2a2a" stroke-width="0.1">2400</text>
<line x1="194.40" y1="360.58" x2="196.20" y2="360.58" stroke="#9a9a9a" stroke-width="0.6"/>
<line x1="294.60" y1="360.58" x2="292.80" y2="360.58" stroke="#9a9a9a" stroke-width="0.6"/>
<text x="192.40" y="363.08" font-size="7.00" text-anchor="end" fill="#2a2a2a" textLength="14.24" lengthAdjust="spacingAndGlyphs" stroke="#2a2a2a" stroke-width="0.1">2450</text>
<line x1="194.40" y1="323.96" x2="196.20" y2="323.96" stroke="#9a9a9a" stroke-width="0.6"/>
<line x1="294.60" y1="323.96" x2="292.80" y2="323.96" stroke="#9a9a9a" stroke-width="0.6"/>
<text x="192.40" y="326.46" font-size="7.00" text-anchor="end" fill="#2a2a2a" textLength="14.24" lengthAdjust="spacingAndGlyphs" stroke="#2a2a2a" stroke-width="0.1">2500</text>
<line x1="194.40" y1="287.34" x2="196.20" y2="287.34" stroke="#9a9a9a" stroke-width="0.6"/>
<line x1="294.60" y1="287.34" x2="292.80" y2="287.34" stroke="#9a9a9a" stroke-width="0.6"/>
<text x="192.40" y="289.84" font-size="7.00" text-anchor="end" fill="#2a2a2a" textLength="14.24" lengthAdjust="spacingAndGlyphs" stroke="#2a2a2a" stroke-width="0.1">2550</text>
<line x1="194.40" y1="250.72" x2="196.20" y2="250.72" stroke="#9a9a9a" stroke-width="0.6"/>
<line x1="294.60" y1="250.72" x2="292.80" y2="250.72" stroke="#9a9a9a" stroke-width="0.6"/>
<text x="192.40" y="253.22" font-size="7.00" text-anchor="end" fill="#2a2a2a" textLength="14.24" lengthAdjust="spacingAndGlyphs" stroke="#2a2a2a" stroke-width="0.1">2600</text>
<line x1="194.40" y1="214.10" x2="196.20" y2="214.10" stroke="#9a9a9a" stroke-width="0.6"/>
<line x1="294.60" y1="214.10" x2="292.80" y2="214.10" stroke="#9a9a9a" stroke-width="0.6"/>
<text x="192.40" y="216.60" font-size="7.00" text-anchor="end" fill="#2a2a2a" textLength="14.24" lengthAdjust="spacingAndGlyphs" stroke="#2a2a2a" stroke-width="0.1">2650</text>
<line x1="194.40" y1="397.20" x2="194.40" y2="395.40" stroke="#9a9a9a" stroke-width="0.6"/>
<line x1="194.40" y1="214.10" x2="194.40" y2="215.90" stroke="#9a9a9a" stroke-width="0.6"/>
<text x="194.40" y="406.40" font-size="7.00" text-anchor="middle" fill="#2a2a2a" textLength="5.69" lengthAdjust="spacingAndGlyphs" stroke="#2a2a2a" stroke-width="0.1">-4</text>
<line x1="219.45" y1="397.20" x2="219.45" y2="395.40" stroke="#9a9a9a" stroke-width="0.6"/>
<line x1="219.45" y1="214.10" x2="219.45" y2="215.90" stroke="#9a9a9a" stroke-width="0.6"/>
<text x="219.45" y="406.40" font-size="7.00" text-anchor="middle" fill="#2a2a2a" textLength="5.69" lengthAdjust="spacingAndGlyphs" stroke="#2a2a2a" stroke-width="0.1">-2</text>
<line x1="244.50" y1="397.20" x2="244.50" y2="395.40" stroke="#9a9a9a" stroke-width="0.6"/>
<line x1="244.50" y1="214.10" x2="244.50" y2="215.90" stroke="#9a9a9a" stroke-width="0.6"/>
<text x="244.50" y="406.40" font-size="7.00" text-anchor="middle" fill="#2a2a2a" textLength="3.56" lengthAdjust="spacingAndGlyphs" stroke="#2a2a2a" stroke-width="0.1">0</text>
<line x1="269.55" y1="397.20" x2="269.55" y2="395.40" stroke="#9a9a9a" stroke-width="0.6"/>
<line x1="269.55" y1="214.10" x2="269.55" y2="215.90" stroke="#9a9a9a" stroke-width="0.6"/>
<text x="269.55" y="406.40" font-size="7.00" text-anchor="middle" fill="#2a2a2a" textLength="3.56" lengthAdjust="spacingAndGlyphs" stroke="#2a2a2a" stroke-width="0.1">2</text>
<line x1="294.60" y1="397.20" x2="294.60" y2="395.40" stroke="#9a9a9a" stroke-width="0.6"/>
<line x1="294.60" y1="214.10" x2="294.60" y2="215.90" stroke="#9a9a9a" stroke-width="0.6"/>
<text x="294.60" y="406.40" font-size="7.00" text-anchor="middle" fill="#2a2a2a" textLength="3.56" lengthAdjust="spacingAndGlyphs" stroke="#2a2a2a" stroke-width="0.1">4</text>
<circle cx="194.40" cy="237.54" r="1.2" fill="#7ab6ea" fill-opacity="0.75"/>
<path d="M192.80,237.54H196.00M194.40,235.94V239.14M193.28,236.42L195.52,238.66M193.28,238.66L195.52,236.42" stroke="#2f7cc8" stroke-width="0.75" fill="none"/>
<circle cx="206.93" cy="249.99" r="1.2" fill="#7ab6ea" fill-opacity="0.75"/>
<path d="M205.33,249.99H208.53M206.93,248.39V251.59M205.81,248.87L208.05,251.11M205.81,251.11L208.05,248.87" stroke="#2f7cc8" stroke-width="0.75" fill="none"/>
<circle cx="219.45" cy="266.83" r="1.2" fill="#7ab6ea" fill-opacity="0.75"/>
<path d="M217.85,266.83H221.05M219.45,265.23V268.43M218.33,265.71L220.57,267.95M218.33,267.95L220.57,265.71" stroke="#2f7cc8" stroke-width="0.75" fill="none"/>
<circle cx="231.98" cy="292.47" r="1.2" fill="#7ab6ea" fill-opacity="0.75"/>
<path d="M230.38,292.47H233.58M231.98,290.87V294.07M230.86,291.35L233.10,293.59M230.86,293.59L233.10,291.35" stroke="#2f7cc8" stroke-width="0.75" fill="none"/>
<circle cx="244.50" cy="317.37" r="1.2" fill="#7ab6ea" fill-opacity="0.75"/>
<path d="M242.90,317.37H246.10M244.50,315.77V318.97M243.38,316.25L245.62,318.49M243.38,318.49L245.62,316.25" stroke="#2f7cc8" stroke-width="0.75" fill="none"/>
<circle cx="257.03" cy="336.41" r="1.2" fill="#7ab6ea" fill-opacity="0.75"/>
<path d="M255.43,336.41H258.63M257.03,334.81V338.01M255.91,335.29L258.15,337.53M255.91,337.53L258.15,335.29" stroke="#2f7cc8" stroke-width="0.75" fill="none"/>
<circle cx="269.55" cy="361.31" r="1.2" fill="#7ab6ea" fill-opacity="0.75"/>
<path d="M267.95,361.31H271.15M269.55,359.71V362.91M268.43,360.19L270.67,362.43M268.43,362.43L270.67,360.19" stroke="#2f7cc8" stroke-width="0.75" fill="none"/>
<circle cx="282.08" cy="375.96" r="1.2" fill="#7ab6ea" fill-opacity="0.75"/>
<path d="M280.48,375.96H283.68M282.08,374.36V377.56M280.96,374.84L283.20,377.08M280.96,377.08L283.20,374.84" stroke="#2f7cc8" stroke-width="0.75" fill="none"/>
<circle cx="294.60" cy="392.81" r="1.2" fill="#7ab6ea" fill-opacity="0.75"/>
<path d="M293.00,392.81H296.20M294.60,391.21V394.41M293.48,391.69L295.72,393.93M293.48,393.93L295.72,391.69" stroke="#2f7cc8" stroke-width="0.75" fill="none"/>
<text x="244.50" y="415.6" font-size="7" fill="#2a2a2a" text-anchor="middle" textLength="39" lengthAdjust="spacingAndGlyphs"><tspan font-style="italic">y</tspan> component</text>
<text x="0" y="0" font-size="7" fill="#303030" text-anchor="middle" textLength="51" lengthAdjust="spacingAndGlyphs" transform="translate(43.4,304.1) rotate(-90)">Frequency(Hz)</text>
<text x="303.20" y="215.10" font-size="10.80" text-anchor="start" fill="#111" stroke="#111" stroke-width="0.3">d</text>
<rect x="326.30" y="211.50" width="239.90" height="45.90" fill="none" stroke="#c0c0c0" stroke-width="1.0"/>
<rect x="390.40" y="255.10" width="8.43" height="2.29" fill="#0b6cc2" stroke="#1a2c44" stroke-width="0.7"/>
<rect x="407.26" y="255.10" width="8.43" height="2.29" fill="#0b6cc2" stroke="#1a2c44" stroke-width="0.7"/>
<rect x="415.69" y="248.22" width="8.43" height="9.18" fill="#0b6cc2" stroke="#1a2c44" stroke-width="0.7"/>
<rect x="424.12" y="241.33" width="8.43" height="16.06" fill="#0b6cc2" stroke="#1a2c44" stroke-width="0.7"/>
<rect x="432.55" y="241.33" width="8.43" height="16.06" fill="#0b6cc2" stroke="#1a2c44" stroke-width="0.7"/>
<rect x="440.98" y="218.38" width="8.43" height="39.01" fill="#0b6cc2" stroke="#1a2c44" stroke-width="0.7"/>
<rect x="449.41" y="243.63" width="8.43" height="13.77" fill="#0b6cc2" stroke="#1a2c44" stroke-width="0.7"/>
<rect x="457.84" y="229.86" width="8.43" height="27.54" fill="#0b6cc2" stroke="#1a2c44" stroke-width="0.7"/>
<rect x="466.27" y="245.92" width="8.43" height="11.47" fill="#0b6cc2" stroke="#1a2c44" stroke-width="0.7"/>
<rect x="474.70" y="245.92" width="8.43" height="11.47" fill="#0b6cc2" stroke="#1a2c44" stroke-width="0.7"/>
<rect x="483.13" y="248.22" width="8.43" height="9.18" fill="#0b6cc2" stroke="#1a2c44" stroke-width="0.7"/>
<rect x="491.56" y="255.10" width="8.43" height="2.29" fill="#0b6cc2" stroke="#1a2c44" stroke-width="0.7"/>
<rect x="499.99" y="252.81" width="8.43" height="4.59" fill="#0b6cc2" stroke="#1a2c44" stroke-width="0.7"/>
<rect x="508.42" y="252.81" width="8.43" height="4.59" fill="#0b6cc2" stroke="#1a2c44" stroke-width="0.7"/>
<rect x="516.85" y="252.81" width="8.43" height="4.59" fill="#0b6cc2" stroke="#1a2c44" stroke-width="0.7"/>
<rect x="525.28" y="255.10" width="8.43" height="2.29" fill="#0b6cc2" stroke="#1a2c44" stroke-width="0.7"/>
<rect x="533.71" y="255.10" width="8.43" height="2.29" fill="#0b6cc2" stroke="#1a2c44" stroke-width="0.7"/>
<rect x="542.14" y="255.10" width="8.43" height="2.29" fill="#0b6cc2" stroke="#1a2c44" stroke-width="0.7"/>
<rect x="550.57" y="255.10" width="8.43" height="2.29" fill="#0b6cc2" stroke="#1a2c44" stroke-width="0.7"/>
<line x1="326.30" y1="257.40" x2="326.30" y2="255.60" stroke="#9a9a9a" stroke-width="0.6"/>
<line x1="326.30" y1="211.50" x2="326.30" y2="213.30" stroke="#9a9a9a" stroke-width="0.6"/>
<text x="326.30" y="265.90" font-size="6.60" text-anchor="middle" fill="#2a2a2a" textLength="3.28" lengthAdjust="spacingAndGlyphs" stroke="#2a2a2a" stroke-width="0.1">5</text>
<line x1="368.75" y1="257.40" x2="368.75" y2="255.60" stroke="#9a9a9a" stroke-width="0.6"/>
<line x1="368.75" y1="211.50" x2="368.75" y2="213.30" stroke="#9a9a9a" stroke-width="0.6"/>
<text x="368.75" y="265.90" font-size="6.60" text-anchor="middle" fill="#2a2a2a" textLength="6.56" lengthAdjust="spacingAndGlyphs" stroke="#2a2a2a" stroke-width="0.1">10</text>
<line x1="411.20" y1="257.40" x2="411.20" y2="255.60" stroke="#9a9a9a" stroke-width="0.6"/>
<line x1="411.20" y1="211.50" x2="411.20" y2="213.30" stroke="#9a9a9a" stroke-width="0.6"/>
<text x="411.20" y="265.90" font-size="6.60" text-anchor="middle" fill="#2a2a2a" textLength="6.56" lengthAdjust="spacingAndGlyphs" stroke="#2a2a2a" stroke-width="0.1">15</text>
<line x1="453.65" y1="257.40" x2="453.65" y2="255.60" stroke="#9a9a9a" stroke-width="0.6"/>
<line x1="453.65" y1="211.50" x2="453.65" y2="213.30" stroke="#9a9a9a" stroke-width="0.6"/>
<text x="453.65" y="265.90" font-size="6.60" text-anchor="middle" fill="#2a2a2a" textLength="6.56" lengthAdjust="spacingAndGlyphs" stroke="#2a2a2a" stroke-width="0.1">20</text>
<line x1="496.10" y1="257.40" x2="496.10" y2="255.60" stroke="#9a9a9a" stroke-width="0.6"/>
<line x1="496.10" y1="211.50" x2="496.10" y2="213.30" stroke="#9a9a9a" stroke-width="0.6"/>
<text x="496.10" y="265.90" font-size="6.60" text-anchor="middle" fill="#2a2a2a" textLength="6.56" lengthAdjust="spacingAndGlyphs" stroke="#2a2a2a" stroke-width="0.1">25</text>
<line x1="538.55" y1="257.40" x2="538.55" y2="255.60" stroke="#9a9a9a" stroke-width="0.6"/>
<line x1="538.55" y1="211.50" x2="538.55" y2="213.30" stroke="#9a9a9a" stroke-width="0.6"/>
<text x="538.55" y="265.90" font-size="6.60" text-anchor="middle" fill="#2a2a2a" textLength="6.56" lengthAdjust="spacingAndGlyphs" stroke="#2a2a2a" stroke-width="0.1">30</text>
<line x1="326.30" y1="257.40" x2="328.10" y2="257.40" stroke="#9a9a9a" stroke-width="0.6"/>
<line x1="566.20" y1="257.40" x2="564.40" y2="257.40" stroke="#9a9a9a" stroke-width="0.6"/>
<text x="324.30" y="259.70" font-size="6.60" text-anchor="end" fill="#2a2a2a" textLength="3.28" lengthAdjust="spacingAndGlyphs" stroke="#2a2a2a" stroke-width="0.1">0</text>
<line x1="326.30" y1="234.45" x2="328.10" y2="234.45" stroke="#9a9a9a" stroke-width="0.6"/>
<line x1="566.20" y1="234.45" x2="564.40" y2="234.45" stroke="#9a9a9a" stroke-width="0.6"/>
<text x="324.30" y="236.75" font-size="6.60" text-anchor="end" fill="#2a2a2a" textLength="6.56" lengthAdjust="spacingAndGlyphs" stroke="#2a2a2a" stroke-width="0.1">10</text>
<line x1="326.30" y1="211.50" x2="328.10" y2="211.50" stroke="#9a9a9a" stroke-width="0.6"/>
<line x1="566.20" y1="211.50" x2="564.40" y2="211.50" stroke="#9a9a9a" stroke-width="0.6"/>
<text x="324.30" y="213.80" font-size="6.60" text-anchor="end" fill="#2a2a2a" textLength="6.56" lengthAdjust="spacingAndGlyphs" stroke="#2a2a2a" stroke-width="0.1">20</text>
<polyline points="367.05,257.17 369.41,257.11 371.76,257.04 374.12,256.96 376.48,256.86 378.83,256.74 381.19,256.59 383.54,256.43 385.90,256.23 388.26,256.01 390.61,255.75 392.97,255.46 395.32,255.12 397.68,254.74 400.04,254.32 402.39,253.84 404.75,253.32 407.10,252.75 409.46,252.13 411.82,251.46 414.17,250.74 416.53,249.98 418.88,249.18 421.24,248.34 423.60,247.47 425.95,246.58 428.31,245.68 430.66,244.78 433.02,243.88 435.38,243.00 437.73,242.15 440.09,241.34 442.44,240.58 444.80,239.88 447.16,239.26 449.51,238.73 451.87,238.28 454.22,237.94 456.58,237.70 458.94,237.57 461.29,237.56 463.65,237.65 466.00,237.86 468.36,238.17 470.71,238.59 473.07,239.10 475.43,239.69 477.78,240.37 480.14,241.11 482.49,241.90 484.85,242.74 487.21,243.62 489.56,244.51 491.92,245.42 494.27,246.32 496.63,247.21 498.99,248.09 501.34,248.94 503.70,249.75 506.05,250.52 508.41,251.26 510.77,251.94 513.12,252.57 515.48,253.16 517.83,253.70 520.19,254.18 522.55,254.62 524.90,255.01 527.26,255.36 529.61,255.67 531.97,255.94 534.33,256.17 536.68,256.37 539.04,256.55 541.39,256.70 543.75,256.82 546.11,256.93 548.46,257.02 550.82,257.09 553.17,257.15 555.53,257.20" fill="none" stroke="#ff1a1a" stroke-width="1.9" stroke-linejoin="round"/>
<text x="375.30" y="208.60" font-size="6.40" text-anchor="start" fill="#000" font-weight="bold" textLength="141.50" lengthAdjust="spacingAndGlyphs">Gain Coefficient, Mean= 20.802 STD = 3.688</text>
<rect x="326.30" y="281.00" width="239.90" height="45.40" fill="none" stroke="#c0c0c0" stroke-width="1.0"/>
<rect x="381.80" y="323.37" width="7.50" height="3.03" fill="#0b6cc2" stroke="#1a2c44" stroke-width="0.7"/>
<rect x="389.30" y="323.37" width="7.50" height="3.03" fill="#0b6cc2" stroke="#1a2c44" stroke-width="0.7"/>
<rect x="396.80" y="320.35" width="7.50" height="6.05" fill="#0b6cc2" stroke="#1a2c44" stroke-width="0.7"/>
<rect x="404.30" y="317.32" width="7.50" height="9.08" fill="#0b6cc2" stroke="#1a2c44" stroke-width="0.7"/>
<rect x="411.80" y="317.32" width="7.50" height="9.08" fill="#0b6cc2" stroke="#1a2c44" stroke-width="0.7"/>
<rect x="419.30" y="317.32" width="7.50" height="9.08" fill="#0b6cc2" stroke="#1a2c44" stroke-width="0.7"/>
<rect x="426.80" y="281.00" width="7.50" height="45.40" fill="#0b6cc2" stroke="#1a2c44" stroke-width="0.7"/>
<rect x="434.30" y="299.16" width="7.50" height="27.24" fill="#0b6cc2" stroke="#1a2c44" stroke-width="0.7"/>
<rect x="441.80" y="290.08" width="7.50" height="36.32" fill="#0b6cc2" stroke="#1a2c44" stroke-width="0.7"/>
<rect x="449.30" y="299.16" width="7.50" height="27.24" fill="#0b6cc2" stroke="#1a2c44" stroke-width="0.7"/>
<rect x="456.80" y="314.29" width="7.50" height="12.11" fill="#0b6cc2" stroke="#1a2c44" stroke-width="0.7"/>
<rect x="464.30" y="320.35" width="7.50" height="6.05" fill="#0b6cc2" stroke="#1a2c44" stroke-width="0.7"/>
<rect x="471.80" y="314.29" width="7.50" height="12.11" fill="#0b6cc2" stroke="#1a2c44" stroke-width="0.7"/>
<rect x="486.80" y="311.27" width="7.50" height="15.13" fill="#0b6cc2" stroke="#1a2c44" stroke-width="0.7"/>
<rect x="494.30" y="320.35" width="7.50" height="6.05" fill="#0b6cc2" stroke="#1a2c44" stroke-width="0.7"/>
<rect x="501.80" y="323.37" width="7.50" height="3.03" fill="#0b6cc2" stroke="#1a2c44" stroke-width="0.7"/>
<rect x="509.30" y="320.35" width="7.50" height="6.05" fill="#0b6cc2" stroke="#1a2c44" stroke-width="0.7"/>
<rect x="524.30" y="320.35" width="7.50" height="6.05" fill="#0b6cc2" stroke="#1a2c44" stroke-width="0.7"/>
<line x1="326.30" y1="326.40" x2="326.30" y2="324.60" stroke="#9a9a9a" stroke-width="0.6"/>
<line x1="326.30" y1="281.00" x2="326.30" y2="282.80" stroke="#9a9a9a" stroke-width="0.6"/>
<text x="326.30" y="334.90" font-size="6.60" text-anchor="middle" fill="#2a2a2a" textLength="9.84" lengthAdjust="spacingAndGlyphs" stroke="#2a2a2a" stroke-width="0.1">500</text>
<line x1="366.28" y1="326.40" x2="366.28" y2="324.60" stroke="#9a9a9a" stroke-width="0.6"/>
<line x1="366.28" y1="281.00" x2="366.28" y2="282.80" stroke="#9a9a9a" stroke-width="0.6"/>
<text x="366.28" y="334.90" font-size="6.60" text-anchor="middle" fill="#2a2a2a" textLength="13.12" lengthAdjust="spacingAndGlyphs" stroke="#2a2a2a" stroke-width="0.1">1000</text>
<line x1="406.27" y1="326.40" x2="406.27" y2="324.60" stroke="#9a9a9a" stroke-width="0.6"/>
<line x1="406.27" y1="281.00" x2="406.27" y2="282.80" stroke="#9a9a9a" stroke-width="0.6"/>
<text x="406.27" y="334.90" font-size="6.60" text-anchor="middle" fill="#2a2a2a" textLength="13.12" lengthAdjust="spacingAndGlyphs" stroke="#2a2a2a" stroke-width="0.1">1500</text>
<line x1="446.25" y1="326.40" x2="446.25" y2="324.60" stroke="#9a9a9a" stroke-width="0.6"/>
<line x1="446.25" y1="281.00" x2="446.25" y2="282.80" stroke="#9a9a9a" stroke-width="0.6"/>
<text x="446.25" y="334.90" font-size="6.60" text-anchor="middle" fill="#2a2a2a" textLength="13.12" lengthAdjust="spacingAndGlyphs" stroke="#2a2a2a" stroke-width="0.1">2000</text>
<line x1="486.23" y1="326.40" x2="486.23" y2="324.60" stroke="#9a9a9a" stroke-width="0.6"/>
<line x1="486.23" y1="281.00" x2="486.23" y2="282.80" stroke="#9a9a9a" stroke-width="0.6"/>
<text x="486.23" y="334.90" font-size="6.60" text-anchor="middle" fill="#2a2a2a" textLength="13.12" lengthAdjust="spacingAndGlyphs" stroke="#2a2a2a" stroke-width="0.1">2500</text>
<line x1="526.22" y1="326.40" x2="526.22" y2="324.60" stroke="#9a9a9a" stroke-width="0.6"/>
<line x1="526.22" y1="281.00" x2="526.22" y2="282.80" stroke="#9a9a9a" stroke-width="0.6"/>
<text x="526.22" y="334.90" font-size="6.60" text-anchor="middle" fill="#2a2a2a" textLength="13.12" lengthAdjust="spacingAndGlyphs" stroke="#2a2a2a" stroke-width="0.1">3000</text>
<line x1="566.20" y1="326.40" x2="566.20" y2="324.60" stroke="#9a9a9a" stroke-width="0.6"/>
<line x1="566.20" y1="281.00" x2="566.20" y2="282.80" stroke="#9a9a9a" stroke-width="0.6"/>
<text x="566.20" y="334.90" font-size="6.60" text-anchor="middle" fill="#2a2a2a" textLength="13.12" lengthAdjust="spacingAndGlyphs" stroke="#2a2a2a" stroke-width="0.1">3500</text>
<line x1="326.30" y1="326.40" x2="328.10" y2="326.40" stroke="#9a9a9a" stroke-width="0.6"/>
<line x1="566.20" y1="326.40" x2="564.40" y2="326.40" stroke="#9a9a9a" stroke-width="0.6"/>
<text x="324.30" y="328.70" font-size="6.60" text-anchor="end" fill="#2a2a2a" textLength="3.28" lengthAdjust="spacingAndGlyphs" stroke="#2a2a2a" stroke-width="0.1">0</text>
<line x1="326.30" y1="311.27" x2="328.10" y2="311.27" stroke="#9a9a9a" stroke-width="0.6"/>
<line x1="566.20" y1="311.27" x2="564.40" y2="311.27" stroke="#9a9a9a" stroke-width="0.6"/>
<text x="324.30" y="313.57" font-size="6.60" text-anchor="end" fill="#2a2a2a" textLength="3.28" lengthAdjust="spacingAndGlyphs" stroke="#2a2a2a" stroke-width="0.1">5</text>
<line x1="326.30" y1="296.13" x2="328.10" y2="296.13" stroke="#9a9a9a" stroke-width="0.6"/>
<line x1="566.20" y1="296.13" x2="564.40" y2="296.13" stroke="#9a9a9a" stroke-width="0.6"/>
<text x="324.30" y="298.43" font-size="6.60" text-anchor="end" fill="#2a2a2a" textLength="6.56" lengthAdjust="spacingAndGlyphs" stroke="#2a2a2a" stroke-width="0.1">10</text>
<line x1="326.30" y1="281.00" x2="328.10" y2="281.00" stroke="#9a9a9a" stroke-width="0.6"/>
<line x1="566.20" y1="281.00" x2="564.40" y2="281.00" stroke="#9a9a9a" stroke-width="0.6"/>
<text x="324.30" y="283.30" font-size="6.60" text-anchor="end" fill="#2a2a2a" textLength="6.56" lengthAdjust="spacingAndGlyphs" stroke="#2a2a2a" stroke-width="0.1">15</text>
<polyline points="358.29,326.13 360.54,326.06 362.78,325.98 365.03,325.88 367.28,325.77 369.53,325.63 371.78,325.46 374.03,325.27 376.28,325.04 378.53,324.78 380.78,324.47 383.03,324.12 385.28,323.73 387.52,323.28 389.77,322.78 392.02,322.22 394.27,321.60 396.52,320.92 398.77,320.18 401.02,319.39 403.27,318.53 405.52,317.62 407.77,316.65 410.02,315.65 412.26,314.60 414.51,313.53 416.76,312.43 419.01,311.33 421.26,310.24 423.51,309.16 425.76,308.11 428.01,307.11 430.26,306.17 432.51,305.30 434.75,304.52 437.00,303.83 439.25,303.26 441.50,302.81 443.75,302.48 446.00,302.28 448.25,302.22 450.50,302.29 452.75,302.50 455.00,302.84 457.25,303.31 459.49,303.89 461.74,304.58 463.99,305.37 466.24,306.25 468.49,307.20 470.74,308.20 472.99,309.25 475.24,310.33 477.49,311.43 479.74,312.53 481.99,313.62 484.23,314.69 486.48,315.74 488.73,316.74 490.98,317.70 493.23,318.61 495.48,319.46 497.73,320.25 499.98,320.99 502.23,321.66 504.48,322.27 506.72,322.82 508.97,323.32 511.22,323.76 513.47,324.16 515.72,324.50 517.97,324.80 520.22,325.06 522.47,325.29 524.72,325.48 526.97,325.64 529.22,325.78 531.46,325.89 533.71,325.99 535.96,326.07 538.21,326.14" fill="none" stroke="#ff1a1a" stroke-width="1.9" stroke-linejoin="round"/>
<text x="359.00" y="278.90" font-size="6.40" text-anchor="start" fill="#000" font-weight="bold" textLength="173.00" lengthAdjust="spacingAndGlyphs">Idling Frequency (Hz), Mean= 2023.771 STD = 374.611</text>
<rect x="326.30" y="350.40" width="239.90" height="45.80" fill="none" stroke="#c0c0c0" stroke-width="1.0"/>
<rect x="337.00" y="364.14" width="10.89" height="32.06" fill="#5aa5de" stroke="#24405a" stroke-width="0.7"/>
<rect x="347.89" y="373.30" width="10.89" height="22.90" fill="#5aa5de" stroke="#24405a" stroke-width="0.7"/>
<rect x="358.78" y="368.72" width="10.89" height="27.48" fill="#5aa5de" stroke="#24405a" stroke-width="0.7"/>
<rect x="369.67" y="382.46" width="10.89" height="13.74" fill="#5aa5de" stroke="#24405a" stroke-width="0.7"/>
<rect x="380.56" y="368.72" width="10.89" height="27.48" fill="#5aa5de" stroke="#24405a" stroke-width="0.7"/>
<rect x="391.45" y="377.88" width="10.89" height="18.32" fill="#5aa5de" stroke="#24405a" stroke-width="0.7"/>
<rect x="402.34" y="382.46" width="10.89" height="13.74" fill="#5aa5de" stroke="#24405a" stroke-width="0.7"/>
<rect x="413.23" y="354.98" width="10.89" height="41.22" fill="#5aa5de" stroke="#24405a" stroke-width="0.7"/>
<rect x="424.12" y="359.56" width="10.89" height="36.64" fill="#5aa5de" stroke="#24405a" stroke-width="0.7"/>
<rect x="435.01" y="382.46" width="10.89" height="13.74" fill="#5aa5de" stroke="#24405a" stroke-width="0.7"/>
<rect x="445.90" y="377.88" width="10.89" height="18.32" fill="#5aa5de" stroke="#24405a" stroke-width="0.7"/>
<rect x="456.79" y="377.88" width="10.89" height="18.32" fill="#5aa5de" stroke="#24405a" stroke-width="0.7"/>
<rect x="467.68" y="387.04" width="10.89" height="9.16" fill="#5aa5de" stroke="#24405a" stroke-width="0.7"/>
<rect x="478.57" y="377.88" width="10.89" height="18.32" fill="#5aa5de" stroke="#24405a" stroke-width="0.7"/>
<rect x="489.46" y="377.88" width="10.89" height="18.32" fill="#5aa5de" stroke="#24405a" stroke-width="0.7"/>
<rect x="500.35" y="387.04" width="10.89" height="9.16" fill="#5aa5de" stroke="#24405a" stroke-width="0.7"/>
<rect x="511.24" y="382.46" width="10.89" height="13.74" fill="#5aa5de" stroke="#24405a" stroke-width="0.7"/>
<rect x="522.13" y="391.62" width="10.89" height="4.58" fill="#5aa5de" stroke="#24405a" stroke-width="0.7"/>
<rect x="533.02" y="391.62" width="10.89" height="4.58" fill="#5aa5de" stroke="#24405a" stroke-width="0.7"/>
<rect x="543.91" y="391.62" width="10.89" height="4.58" fill="#5aa5de" stroke="#24405a" stroke-width="0.7"/>
<line x1="348.70" y1="396.20" x2="348.70" y2="394.40" stroke="#9a9a9a" stroke-width="0.6"/>
<line x1="348.70" y1="350.40" x2="348.70" y2="352.20" stroke="#9a9a9a" stroke-width="0.6"/>
<text x="348.70" y="404.70" font-size="6.60" text-anchor="middle" fill="#2a2a2a" textLength="11.48" lengthAdjust="spacingAndGlyphs" stroke="#2a2a2a" stroke-width="0.1">0.91</text>
<line x1="379.04" y1="396.20" x2="379.04" y2="394.40" stroke="#9a9a9a" stroke-width="0.6"/>
<line x1="379.04" y1="350.40" x2="379.04" y2="352.20" stroke="#9a9a9a" stroke-width="0.6"/>
<text x="379.04" y="404.70" font-size="6.60" text-anchor="middle" fill="#2a2a2a" textLength="11.48" lengthAdjust="spacingAndGlyphs" stroke="#2a2a2a" stroke-width="0.1">0.92</text>
<line x1="409.38" y1="396.20" x2="409.38" y2="394.40" stroke="#9a9a9a" stroke-width="0.6"/>
<line x1="409.38" y1="350.40" x2="409.38" y2="352.20" stroke="#9a9a9a" stroke-width="0.6"/>
<text x="409.38" y="404.70" font-size="6.60" text-anchor="middle" fill="#2a2a2a" textLength="11.48" lengthAdjust="spacingAndGlyphs" stroke="#2a2a2a" stroke-width="0.1">0.93</text>
<line x1="439.72" y1="396.20" x2="439.72" y2="394.40" stroke="#9a9a9a" stroke-width="0.6"/>
<line x1="439.72" y1="350.40" x2="439.72" y2="352.20" stroke="#9a9a9a" stroke-width="0.6"/>
<text x="439.72" y="404.70" font-size="6.60" text-anchor="middle" fill="#2a2a2a" textLength="11.48" lengthAdjust="spacingAndGlyphs" stroke="#2a2a2a" stroke-width="0.1">0.94</text>
<line x1="470.06" y1="396.20" x2="470.06" y2="394.40" stroke="#9a9a9a" stroke-width="0.6"/>
<line x1="470.06" y1="350.40" x2="470.06" y2="352.20" stroke="#9a9a9a" stroke-width="0.6"/>
<text x="470.06" y="404.70" font-size="6.60" text-anchor="middle" fill="#2a2a2a" textLength="11.48" lengthAdjust="spacingAndGlyphs" stroke="#2a2a2a" stroke-width="0.1">0.95</text>
<line x1="500.40" y1="396.20" x2="500.40" y2="394.40" stroke="#9a9a9a" stroke-width="0.6"/>
<line x1="500.40" y1="350.40" x2="500.40" y2="352.20" stroke="#9a9a9a" stroke-width="0.6"/>
<text x="500.40" y="404.70" font-size="6.60" text-anchor="middle" fill="#2a2a2a" textLength="11.48" lengthAdjust="spacingAndGlyphs" stroke="#2a2a2a" stroke-width="0.1">0.96</text>
<line x1="530.74" y1="396.20" x2="530.74" y2="394.40" stroke="#9a9a9a" stroke-width="0.6"/>
<line x1="530.74" y1="350.40" x2="530.74" y2="352.20" stroke="#9a9a9a" stroke-width="0.6"/>
<text x="530.74" y="404.70" font-size="6.60" text-anchor="middle" fill="#2a2a2a" textLength="11.48" lengthAdjust="spacingAndGlyphs" stroke="#2a2a2a" stroke-width="0.1">0.97</text>
<line x1="561.08" y1="396.20" x2="561.08" y2="394.40" stroke="#9a9a9a" stroke-width="0.6"/>
<line x1="561.08" y1="350.40" x2="561.08" y2="352.20" stroke="#9a9a9a" stroke-width="0.6"/>
<text x="561.08" y="404.70" font-size="6.60" text-anchor="middle" fill="#2a2a2a" textLength="11.48" lengthAdjust="spacingAndGlyphs" stroke="#2a2a2a" stroke-width="0.1">0.98</text>
<line x1="326.30" y1="396.20" x2="328.10" y2="396.20" stroke="#9a9a9a" stroke-width="0.6"/>
<line x1="566.20" y1="396.20" x2="564.40" y2="396.20" stroke="#9a9a9a" stroke-width="0.6"/>
<text x="324.30" y="398.50" font-size="6.60" text-anchor="end" fill="#2a2a2a" textLength="3.28" lengthAdjust="spacingAndGlyphs" stroke="#2a2a2a" stroke-width="0.1">0</text>
<line x1="326.30" y1="373.30" x2="328.10" y2="373.30" stroke="#9a9a9a" stroke-width="0.6"/>
<line x1="566.20" y1="373.30" x2="564.40" y2="373.30" stroke="#9a9a9a" stroke-width="0.6"/>
<text x="324.30" y="375.60" font-size="6.60" text-anchor="end" fill="#2a2a2a" textLength="3.28" lengthAdjust="spacingAndGlyphs" stroke="#2a2a2a" stroke-width="0.1">5</text>
<line x1="326.30" y1="350.40" x2="328.10" y2="350.40" stroke="#9a9a9a" stroke-width="0.6"/>
<line x1="566.20" y1="350.40" x2="564.40" y2="350.40" stroke="#9a9a9a" stroke-width="0.6"/>
<text x="324.30" y="352.70" font-size="6.60" text-anchor="end" fill="#2a2a2a" textLength="6.56" lengthAdjust="spacingAndGlyphs" stroke="#2a2a2a" stroke-width="0.1">10</text>
<text x="418.80" y="348.00" font-size="6.40" text-anchor="start" fill="#000" font-weight="bold" textLength="54.20" lengthAdjust="spacingAndGlyphs">R-Squared Value</text>
<text x="0" y="0" font-size="7" fill="#202020" text-anchor="middle" textLength="78.5" lengthAdjust="spacingAndGlyphs" stroke="#202020" stroke-width="0.1" transform="translate(309.3,303.5) rotate(-90)">Number of theta units</text>
</svg>
</body></html>
